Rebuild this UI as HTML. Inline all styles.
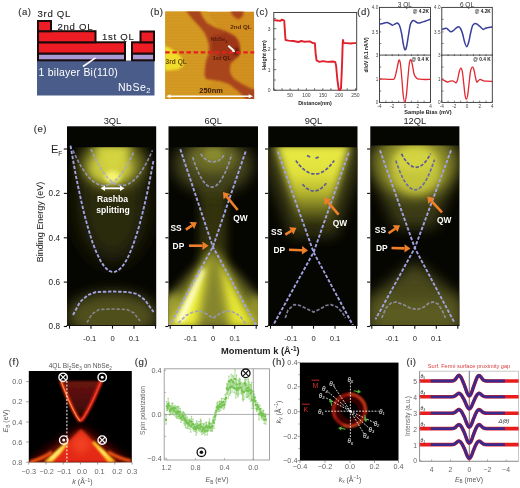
<!DOCTYPE html>
<html><head><meta charset="utf-8"><title>Figure</title>
<style>html,body{margin:0;padding:0;background:#fff;width:520px;height:488px;overflow:hidden}svg{display:block}</style>
</head><body>
<svg width="520" height="488" viewBox="0 0 520 488" font-family="'Liberation Sans', Arial, sans-serif"><defs><clipPath id="cb"><rect x="165.2" y="11.4" width="89" height="87.7"/></clipPath><filter id="bl1" x="-20%" y="-20%" width="140%" height="140%"><feGaussianBlur stdDeviation="0.8"/></filter><filter id="g4" x="-50%" y="-50%" width="200%" height="200%"><feGaussianBlur stdDeviation="4"/></filter><filter id="g7" x="-50%" y="-50%" width="200%" height="200%"><feGaussianBlur stdDeviation="7"/></filter><filter id="g10" x="-50%" y="-50%" width="200%" height="200%"><feGaussianBlur stdDeviation="10"/></filter><filter id="g2" x="-50%" y="-50%" width="200%" height="200%"><feGaussianBlur stdDeviation="2"/></filter><clipPath id="ce0"><rect x="67" y="126.3" width="89.2" height="199.2"/></clipPath><clipPath id="cu0"><rect x="67" y="147.3" width="89.2" height="178.2"/></clipPath><clipPath id="ce1"><rect x="168.5" y="126.3" width="89.5" height="199.2"/></clipPath><clipPath id="cu1"><rect x="168.5" y="147.3" width="89.5" height="178.2"/></clipPath><clipPath id="ce2"><rect x="268.2" y="126.3" width="89.3" height="199.2"/></clipPath><clipPath id="cu2"><rect x="268.2" y="147.3" width="89.3" height="178.2"/></clipPath><linearGradient id="lg2" x1="0" y1="148" x2="0" y2="238" gradientUnits="userSpaceOnUse"><stop offset="0" stop-color="#eaea44"/><stop offset="0.3" stop-color="#e0e03c"/><stop offset="0.5" stop-color="#b4b430"/><stop offset="0.68" stop-color="#6e6e1e"/><stop offset="0.85" stop-color="#2a2a0e"/><stop offset="1" stop-color="#0a0a02"/></linearGradient><clipPath id="ce3"><rect x="370.3" y="126.3" width="89.1" height="199.2"/></clipPath><clipPath id="cu3"><rect x="370.3" y="147.3" width="89.1" height="178.2"/></clipPath><clipPath id="cv3"><rect x="370.3" y="145.5" width="89.1" height="180.0"/></clipPath><clipPath id="cf"><rect x="28.8" y="371.0" width="103.0" height="91.3"/></clipPath><filter id="f1" x="-50%" y="-50%" width="200%" height="200%"><feGaussianBlur stdDeviation="1"/></filter><filter id="f3" x="-50%" y="-50%" width="200%" height="200%"><feGaussianBlur stdDeviation="3"/></filter><filter id="f5" x="-50%" y="-50%" width="200%" height="200%"><feGaussianBlur stdDeviation="5"/></filter><linearGradient id="vint" x1="0" y1="381" x2="0" y2="421" gradientUnits="userSpaceOnUse"><stop offset="0" stop-color="#6a1410"/><stop offset="0.6" stop-color="#4a0c08"/><stop offset="1" stop-color="#1a0202"/></linearGradient><clipPath id="chh"><rect x="299.9" y="362.6" width="98.6" height="98.0"/></clipPath><radialGradient id="ring" cx="0.5" cy="0.5" r="0.5"><stop offset="0.5" stop-color="#000" stop-opacity="0"/><stop offset="0.64" stop-color="#3a0804"/><stop offset="0.8" stop-color="#a82408"/><stop offset="0.88" stop-color="#f05a1c"/><stop offset="0.94" stop-color="#a02008"/><stop offset="1" stop-color="#300400" stop-opacity="0"/></radialGradient></defs><text x="18.3" y="15.3" font-size="9.6" fill="#333" text-anchor="start" font-weight="normal" letter-spacing="0.5" stroke="#333" stroke-width="0.15">(a)</text>
<rect x="37" y="60.5" width="117.5" height="35" fill="#4a5d8a"/>
<rect x="38" y="53.5" width="87" height="6.799999999999997" fill="#a89ad2" stroke="#1a0a0a" stroke-width="2"/>
<rect x="132" y="53.5" width="22" height="6.799999999999997" fill="#a89ad2" stroke="#1a0a0a" stroke-width="2"/>
<rect x="38" y="42.3" width="87" height="11.200000000000003" fill="#ee1c24" stroke="#1a0a0a" stroke-width="2"/>
<rect x="132" y="42.3" width="22" height="11.200000000000003" fill="#ee1c24" stroke="#1a0a0a" stroke-width="2"/>
<rect x="38" y="31.2" width="57.5" height="11.099999999999998" fill="#ee1c24" stroke="#1a0a0a" stroke-width="2"/>
<rect x="140.5" y="31.5" width="13.5" height="10.799999999999997" fill="#ee1c24" stroke="#1a0a0a" stroke-width="2"/>
<rect x="38" y="21" width="13" height="10.2" fill="#ee1c24" stroke="#1a0a0a" stroke-width="2"/>
<text x="37.5" y="16.8" font-size="9.6" fill="#222" text-anchor="start" font-weight="normal" letter-spacing="0.7" stroke="#222" stroke-width="0.12">3rd QL</text>
<text x="57.5" y="29.6" font-size="9.6" fill="#222" text-anchor="start" font-weight="normal" letter-spacing="0.7" stroke="#222" stroke-width="0.12">2nd QL</text>
<text x="102.0" y="39.5" font-size="9.6" fill="#222" text-anchor="start" font-weight="normal" letter-spacing="0.7" stroke="#222" stroke-width="0.12">1st QL</text>
<line x1="83" y1="66.5" x2="95.5" y2="57.8" stroke="#fff" stroke-width="1.6"/>
<text x="38.6" y="76.2" font-size="10.5" fill="#fff" text-anchor="start" font-weight="normal" letter-spacing="0.22">1 bilayer Bi(110)</text>
<text x="118" y="90.6" font-size="10.5" fill="#fff" letter-spacing="0.5">NbSe<tspan font-size="7.5" dy="2.5">2</tspan></text>
<text x="150.2" y="14.8" font-size="9.6" fill="#333" text-anchor="start" font-weight="normal" letter-spacing="0.5" stroke="#333" stroke-width="0.15">(b)</text>
<g clip-path="url(#cb)">
<rect x="165.2" y="11.4" width="89.0" height="87.69999999999999" fill="#d2901f"/>
<polygon points="163.0,9.0 205.4,9.0 215.7,24.1 223.3,37.2 236.4,59.8 225.1,71.1 210.1,84.3 193.1,99.4 163.0,99.4" fill="#d59a22" filter="url(#bl1)"/>
<line x1="165.2" y1="12.4" x2="254.2" y2="12.4" stroke="#c08020" stroke-opacity="0.18" stroke-width="1"/>
<line x1="165.2" y1="15.4" x2="254.2" y2="15.4" stroke="#c08020" stroke-opacity="0.18" stroke-width="1"/>
<line x1="165.2" y1="18.4" x2="254.2" y2="18.4" stroke="#c08020" stroke-opacity="0.18" stroke-width="1"/>
<line x1="165.2" y1="21.4" x2="254.2" y2="21.4" stroke="#c08020" stroke-opacity="0.18" stroke-width="1"/>
<line x1="165.2" y1="24.4" x2="254.2" y2="24.4" stroke="#c08020" stroke-opacity="0.18" stroke-width="1"/>
<line x1="165.2" y1="27.4" x2="254.2" y2="27.4" stroke="#c08020" stroke-opacity="0.18" stroke-width="1"/>
<line x1="165.2" y1="30.4" x2="254.2" y2="30.4" stroke="#c08020" stroke-opacity="0.18" stroke-width="1"/>
<line x1="165.2" y1="33.4" x2="254.2" y2="33.4" stroke="#c08020" stroke-opacity="0.18" stroke-width="1"/>
<line x1="165.2" y1="36.4" x2="254.2" y2="36.4" stroke="#c08020" stroke-opacity="0.18" stroke-width="1"/>
<line x1="165.2" y1="39.4" x2="254.2" y2="39.4" stroke="#c08020" stroke-opacity="0.18" stroke-width="1"/>
<line x1="165.2" y1="42.4" x2="254.2" y2="42.4" stroke="#c08020" stroke-opacity="0.18" stroke-width="1"/>
<line x1="165.2" y1="45.4" x2="254.2" y2="45.4" stroke="#c08020" stroke-opacity="0.18" stroke-width="1"/>
<line x1="165.2" y1="48.4" x2="254.2" y2="48.4" stroke="#c08020" stroke-opacity="0.18" stroke-width="1"/>
<line x1="165.2" y1="51.4" x2="254.2" y2="51.4" stroke="#c08020" stroke-opacity="0.18" stroke-width="1"/>
<line x1="165.2" y1="54.4" x2="254.2" y2="54.4" stroke="#c08020" stroke-opacity="0.18" stroke-width="1"/>
<line x1="165.2" y1="57.4" x2="254.2" y2="57.4" stroke="#c08020" stroke-opacity="0.18" stroke-width="1"/>
<line x1="165.2" y1="60.4" x2="254.2" y2="60.4" stroke="#c08020" stroke-opacity="0.18" stroke-width="1"/>
<line x1="165.2" y1="63.4" x2="254.2" y2="63.4" stroke="#c08020" stroke-opacity="0.18" stroke-width="1"/>
<line x1="165.2" y1="66.4" x2="254.2" y2="66.4" stroke="#c08020" stroke-opacity="0.18" stroke-width="1"/>
<line x1="165.2" y1="69.4" x2="254.2" y2="69.4" stroke="#c08020" stroke-opacity="0.18" stroke-width="1"/>
<line x1="165.2" y1="72.4" x2="254.2" y2="72.4" stroke="#c08020" stroke-opacity="0.18" stroke-width="1"/>
<line x1="165.2" y1="75.4" x2="254.2" y2="75.4" stroke="#c08020" stroke-opacity="0.18" stroke-width="1"/>
<line x1="165.2" y1="78.4" x2="254.2" y2="78.4" stroke="#c08020" stroke-opacity="0.18" stroke-width="1"/>
<line x1="165.2" y1="81.4" x2="254.2" y2="81.4" stroke="#c08020" stroke-opacity="0.18" stroke-width="1"/>
<line x1="165.2" y1="84.4" x2="254.2" y2="84.4" stroke="#c08020" stroke-opacity="0.18" stroke-width="1"/>
<line x1="165.2" y1="87.4" x2="254.2" y2="87.4" stroke="#c08020" stroke-opacity="0.18" stroke-width="1"/>
<line x1="165.2" y1="90.4" x2="254.2" y2="90.4" stroke="#c08020" stroke-opacity="0.18" stroke-width="1"/>
<line x1="165.2" y1="93.4" x2="254.2" y2="93.4" stroke="#c08020" stroke-opacity="0.18" stroke-width="1"/>
<line x1="165.2" y1="96.4" x2="254.2" y2="96.4" stroke="#c08020" stroke-opacity="0.18" stroke-width="1"/>
<line x1="165.2" y1="99.4" x2="254.2" y2="99.4" stroke="#c08020" stroke-opacity="0.18" stroke-width="1"/>
<polygon points="185.5,10.0 192.0,18.5 199.0,26.0 204.0,32.0 207.0,38.5 209.0,45.5 208.7,53.7 206.0,60.9 205.0,68.0 204.5,75.0 206.0,79.0 212.0,80.0 220.0,81.0 229.0,84.0 238.0,91.0 244.0,97.0 247.0,100.0 257.0,100.0 257.0,90.0 251.0,88.5 242.0,84.0 234.0,79.0 230.5,74.0 229.7,69.0 230.7,64.0 234.8,59.8 239.0,55.7 240.0,48.6 239.0,41.4 233.8,35.2 225.6,31.1 215.0,27.5 207.0,23.0 202.5,17.0 199.5,10.0" fill="#a9451c" filter="url(#bl1)"/>
<polygon points="230.0,10.0 243.6,10.0 243.0,16.0 238.5,19.5 233.0,16.0" fill="#a9451c" filter="url(#bl1)"/>
<polygon points="212.0,36.0 226.0,33.0 236.0,38.0 239.5,47.0 238.0,56.0 232.0,60.0 220.0,58.0 212.0,50.0" fill="#983218" opacity="0.75" filter="url(#bl1)"/>
<ellipse cx="236.5" cy="51.5" rx="3" ry="3.5" fill="#6a1a0a" filter="url(#bl1)"/>
<polygon points="164.0,45.5 170.0,48.0 176.0,52.0 181.0,57.0 184.0,62.0 183.0,66.5 178.0,69.5 170.0,70.5 164.0,70.5" fill="#f0dc2a" filter="url(#bl1)"/>
</g>
<line x1="165.2" y1="52.3" x2="254.2" y2="52.3" stroke="#e8201c" stroke-width="2.2" stroke-dasharray="4.5,2.6"/>
<line x1="228.3" y1="45.8" x2="233.3" y2="50.3" stroke="#fff" stroke-width="2"/>
<polygon points="235.2,52.2 231.6,51.4 234.1,49" fill="#fff"/>
<text x="230.3" y="28.6" font-size="6.2" fill="#5a2a0a" text-anchor="start" font-weight="bold" >2nd QL</text>
<text x="210.5" y="41" font-size="5.8" fill="#5a200a" font-weight="bold">NbSe<tspan font-size="4" dy="1.5">2</tspan></text>
<text x="212.5" y="60.0" font-size="6" fill="#4a180a" text-anchor="start" font-weight="bold" >1st QL</text>
<text x="165.6" y="64.2" font-size="6.6" fill="#6a4a0a" text-anchor="start" font-weight="bold" >3rd QL</text>
<text x="199.3" y="93.0" font-size="7.4" fill="#3a1a08" text-anchor="start" font-weight="bold" >250nm</text>
<line x1="168" y1="96.2" x2="250.5" y2="96.2" stroke="#fff" stroke-width="1.6"/>
<polygon points="166.2,96.2 170.5,94.2 170.5,98.2" fill="#fff"/>
<polygon points="253,96.2 248.7,94.2 248.7,98.2" fill="#fff"/>
<text x="255.8" y="14.5" font-size="9.6" fill="#333" text-anchor="start" font-weight="normal" letter-spacing="0.5" stroke="#333" stroke-width="0.15">(c)</text>
<rect x="273.8" y="12.5" width="82.89999999999998" height="77.7" fill="none" stroke="#333" stroke-width="0.9"/>
<line x1="273.8" y1="90.2" x2="276.3" y2="90.2" stroke="#333" stroke-width="0.7"/>
<line x1="273.8" y1="80.0" x2="275.8" y2="80.0" stroke="#333" stroke-width="0.7"/>
<line x1="273.8" y1="69.7" x2="276.3" y2="69.7" stroke="#333" stroke-width="0.7"/>
<line x1="273.8" y1="59.5" x2="275.8" y2="59.5" stroke="#333" stroke-width="0.7"/>
<line x1="273.8" y1="49.2" x2="276.3" y2="49.2" stroke="#333" stroke-width="0.7"/>
<line x1="273.8" y1="39.0" x2="275.8" y2="39.0" stroke="#333" stroke-width="0.7"/>
<line x1="273.8" y1="28.7" x2="276.3" y2="28.7" stroke="#333" stroke-width="0.7"/>
<line x1="273.8" y1="18.5" x2="275.8" y2="18.5" stroke="#333" stroke-width="0.7"/>
<text x="270.5" y="92.2" font-size="5" fill="#444" text-anchor="end" font-weight="normal" >0</text>
<text x="270.5" y="71.7" font-size="5" fill="#444" text-anchor="end" font-weight="normal" >1</text>
<text x="270.5" y="51.2" font-size="5" fill="#444" text-anchor="end" font-weight="normal" >2</text>
<text x="270.5" y="30.7" font-size="5" fill="#444" text-anchor="end" font-weight="normal" >3</text>
<line x1="273.8" y1="90.2" x2="273.8" y2="88.2" stroke="#333" stroke-width="0.7"/>
<line x1="282.0" y1="90.2" x2="282.0" y2="88.2" stroke="#333" stroke-width="0.7"/>
<line x1="290.1" y1="90.2" x2="290.1" y2="88.2" stroke="#333" stroke-width="0.7"/>
<line x1="298.3" y1="90.2" x2="298.3" y2="88.2" stroke="#333" stroke-width="0.7"/>
<line x1="306.4" y1="90.2" x2="306.4" y2="88.2" stroke="#333" stroke-width="0.7"/>
<line x1="314.6" y1="90.2" x2="314.6" y2="88.2" stroke="#333" stroke-width="0.7"/>
<line x1="322.8" y1="90.2" x2="322.8" y2="88.2" stroke="#333" stroke-width="0.7"/>
<line x1="330.9" y1="90.2" x2="330.9" y2="88.2" stroke="#333" stroke-width="0.7"/>
<line x1="339.1" y1="90.2" x2="339.1" y2="88.2" stroke="#333" stroke-width="0.7"/>
<line x1="347.2" y1="90.2" x2="347.2" y2="88.2" stroke="#333" stroke-width="0.7"/>
<line x1="355.4" y1="90.2" x2="355.4" y2="88.2" stroke="#333" stroke-width="0.7"/>
<text x="290.1" y="97.0" font-size="5" fill="#444" text-anchor="middle" font-weight="normal" >50</text>
<text x="306.4" y="97.0" font-size="5" fill="#444" text-anchor="middle" font-weight="normal" >100</text>
<text x="322.8" y="97.0" font-size="5" fill="#444" text-anchor="middle" font-weight="normal" >150</text>
<text x="339.1" y="97.0" font-size="5" fill="#444" text-anchor="middle" font-weight="normal" >200</text>
<text x="355.4" y="97.0" font-size="5" fill="#444" text-anchor="middle" font-weight="normal" >250</text>
<text x="315.0" y="104.5" font-size="5.3" fill="#222" text-anchor="middle" font-weight="bold" >Distance(nm)</text>
<text transform="translate(265.5,55) rotate(-90)" font-size="5.3" fill="#222" text-anchor="middle" font-weight="bold">Height (nm)</text>
<path d="M273.8,20.1 L277.1,20.5 L280.3,20.9 L282.0,19.5 L284.2,20.5 L284.9,30.8 L285.5,40.0 L288.5,40.6 L293.4,41.0 L298.3,42.0 L301.5,41.0 L304.8,41.8 L309.7,41.4 L313.0,43.1 L314.9,43.1 L315.6,53.3 L316.6,60.5 L319.5,61.9 L322.8,61.1 L327.7,61.9 L332.5,61.5 L335.2,61.9 L336.1,65.6 L337.4,80.0 L338.7,89.2 L340.1,90.2 L341.0,88.2 L342.0,65.6 L342.7,43.1 L343.0,40.0 L343.6,43.1 L347.2,43.1 L350.5,43.5 L353.8,43.1 L356.0,43.1" fill="none" stroke="#e0202c" stroke-width="1.9" stroke-linejoin="round"/>
<text x="357.3" y="15.3" font-size="9.6" fill="#333" text-anchor="start" font-weight="normal" letter-spacing="0.5" stroke="#333" stroke-width="0.15">(d)</text>
<rect x="379.5" y="7.4" width="51.0" height="95.0" fill="none" stroke="#333" stroke-width="0.9"/>
<line x1="379.5" y1="55.1" x2="430.5" y2="55.1" stroke="#333" stroke-width="0.9"/>
<line x1="379.5" y1="102.4" x2="379.5" y2="100.60000000000001" stroke="#333" stroke-width="0.6"/>
<line x1="379.5" y1="54.1" x2="379.5" y2="56.1" stroke="#333" stroke-width="0.6"/>
<line x1="385.9" y1="102.4" x2="385.9" y2="100.60000000000001" stroke="#333" stroke-width="0.6"/>
<line x1="385.9" y1="54.1" x2="385.9" y2="56.1" stroke="#333" stroke-width="0.6"/>
<line x1="392.2" y1="102.4" x2="392.2" y2="100.60000000000001" stroke="#333" stroke-width="0.6"/>
<line x1="392.2" y1="54.1" x2="392.2" y2="56.1" stroke="#333" stroke-width="0.6"/>
<line x1="398.6" y1="102.4" x2="398.6" y2="100.60000000000001" stroke="#333" stroke-width="0.6"/>
<line x1="398.6" y1="54.1" x2="398.6" y2="56.1" stroke="#333" stroke-width="0.6"/>
<line x1="405.0" y1="102.4" x2="405.0" y2="100.60000000000001" stroke="#333" stroke-width="0.6"/>
<line x1="405.0" y1="54.1" x2="405.0" y2="56.1" stroke="#333" stroke-width="0.6"/>
<line x1="411.4" y1="102.4" x2="411.4" y2="100.60000000000001" stroke="#333" stroke-width="0.6"/>
<line x1="411.4" y1="54.1" x2="411.4" y2="56.1" stroke="#333" stroke-width="0.6"/>
<line x1="417.8" y1="102.4" x2="417.8" y2="100.60000000000001" stroke="#333" stroke-width="0.6"/>
<line x1="417.8" y1="54.1" x2="417.8" y2="56.1" stroke="#333" stroke-width="0.6"/>
<line x1="424.1" y1="102.4" x2="424.1" y2="100.60000000000001" stroke="#333" stroke-width="0.6"/>
<line x1="424.1" y1="54.1" x2="424.1" y2="56.1" stroke="#333" stroke-width="0.6"/>
<line x1="430.5" y1="102.4" x2="430.5" y2="100.60000000000001" stroke="#333" stroke-width="0.6"/>
<line x1="430.5" y1="54.1" x2="430.5" y2="56.1" stroke="#333" stroke-width="0.6"/>
<text x="379.5" y="108.0" font-size="4.6" fill="#444" text-anchor="middle" font-weight="normal" >-4</text>
<text x="392.2" y="108.0" font-size="4.6" fill="#444" text-anchor="middle" font-weight="normal" >-2</text>
<text x="405.0" y="108.0" font-size="4.6" fill="#444" text-anchor="middle" font-weight="normal" >0</text>
<text x="417.8" y="108.0" font-size="4.6" fill="#444" text-anchor="middle" font-weight="normal" >2</text>
<text x="430.5" y="108.0" font-size="4.6" fill="#444" text-anchor="middle" font-weight="normal" >4</text>
<line x1="379.5" y1="19.3" x2="381.3" y2="19.3" stroke="#333" stroke-width="0.6"/>
<line x1="379.5" y1="31.9" x2="381.3" y2="31.9" stroke="#333" stroke-width="0.6"/>
<line x1="379.5" y1="43.5" x2="381.3" y2="43.5" stroke="#333" stroke-width="0.6"/>
<line x1="379.5" y1="67" x2="381.3" y2="67" stroke="#333" stroke-width="0.6"/>
<line x1="379.5" y1="79" x2="381.3" y2="79" stroke="#333" stroke-width="0.6"/>
<line x1="379.5" y1="91" x2="381.3" y2="91" stroke="#333" stroke-width="0.6"/>
<text x="378.2" y="9.3" font-size="4.6" fill="#444" text-anchor="end" font-weight="normal" >4.0</text>
<text x="378.2" y="33.6" font-size="4.6" fill="#444" text-anchor="end" font-weight="normal" >3.5</text>
<text x="378.2" y="56.8" font-size="4.6" fill="#444" text-anchor="end" font-weight="normal" >3</text>
<text x="378.2" y="80.7" font-size="4.6" fill="#444" text-anchor="end" font-weight="normal" >1</text>
<text x="378.2" y="104.2" font-size="4.6" fill="#444" text-anchor="end" font-weight="normal" >0</text>
<text x="429.0" y="13.2" font-size="4.8" fill="#222" text-anchor="end" font-weight="bold" >@ 4.2K</text>
<text x="429.0" y="60.8" font-size="4.8" fill="#222" text-anchor="end" font-weight="bold" >@ 0.4 K</text>
<text x="404.8" y="6.5" font-size="6.5" fill="#333" text-anchor="middle" font-weight="normal" >3 QL</text>
<path d="M379.50,24.00 C380.08,23.90 381.77,23.65 383.00,23.40 C384.23,23.15 385.73,22.43 386.90,22.50 C388.07,22.57 389.05,23.35 390.00,23.80 C390.95,24.25 391.77,25.17 392.60,25.20 C393.43,25.23 394.22,24.37 395.00,24.00 C395.78,23.63 396.55,22.75 397.30,23.00 C398.05,23.25 398.80,23.83 399.50,25.50 C400.20,27.17 400.87,29.92 401.50,33.00 C402.13,36.08 402.72,41.20 403.30,44.00 C403.88,46.80 404.43,49.47 405.00,49.80 C405.57,50.13 406.12,48.47 406.70,46.00 C407.28,43.53 407.92,38.50 408.50,35.00 C409.08,31.50 409.62,27.28 410.20,25.00 C410.78,22.72 411.43,22.03 412.00,21.30 C412.57,20.57 413.02,20.57 413.60,20.60 C414.18,20.63 414.77,21.10 415.50,21.50 C416.23,21.90 417.08,22.83 418.00,23.00 C418.92,23.17 419.83,22.80 421.00,22.50 C422.17,22.20 423.42,21.73 425.00,21.20 C426.58,20.67 429.58,19.62 430.50,19.30" fill="none" stroke="#3a3f9a" stroke-width="1.5"/>
<path d="M379.50,79.00 C380.58,79.03 383.92,79.13 386.00,79.20 C388.08,79.27 390.58,79.52 392.00,79.40 C393.42,79.28 393.75,79.90 394.50,78.50 C395.25,77.10 395.78,73.98 396.50,71.00 C397.22,68.02 398.17,61.93 398.80,60.60 C399.43,59.27 399.80,60.10 400.30,63.00 C400.80,65.90 401.32,72.67 401.80,78.00 C402.28,83.33 402.70,90.93 403.20,95.00 C403.70,99.07 404.27,102.40 404.80,102.40 C405.33,102.40 405.88,99.07 406.40,95.00 C406.92,90.93 407.40,83.33 407.90,78.00 C408.40,72.67 408.90,66.03 409.40,63.00 C409.90,59.97 410.40,59.47 410.90,59.80 C411.40,60.13 411.85,62.55 412.40,65.00 C412.95,67.45 413.43,72.23 414.20,74.50 C414.97,76.77 416.03,77.82 417.00,78.60 C417.97,79.38 418.67,79.05 420.00,79.20 C421.33,79.35 423.25,79.47 425.00,79.50 C426.75,79.53 429.58,79.42 430.50,79.40" fill="none" stroke="#e02830" stroke-width="1.3"/>
<rect x="441.8" y="7.4" width="50.5" height="95.0" fill="none" stroke="#333" stroke-width="0.9"/>
<line x1="441.8" y1="55.1" x2="492.3" y2="55.1" stroke="#333" stroke-width="0.9"/>
<line x1="441.8" y1="102.4" x2="441.8" y2="100.60000000000001" stroke="#333" stroke-width="0.6"/>
<line x1="441.8" y1="54.1" x2="441.8" y2="56.1" stroke="#333" stroke-width="0.6"/>
<line x1="448.1" y1="102.4" x2="448.1" y2="100.60000000000001" stroke="#333" stroke-width="0.6"/>
<line x1="448.1" y1="54.1" x2="448.1" y2="56.1" stroke="#333" stroke-width="0.6"/>
<line x1="454.4" y1="102.4" x2="454.4" y2="100.60000000000001" stroke="#333" stroke-width="0.6"/>
<line x1="454.4" y1="54.1" x2="454.4" y2="56.1" stroke="#333" stroke-width="0.6"/>
<line x1="460.7" y1="102.4" x2="460.7" y2="100.60000000000001" stroke="#333" stroke-width="0.6"/>
<line x1="460.7" y1="54.1" x2="460.7" y2="56.1" stroke="#333" stroke-width="0.6"/>
<line x1="467.1" y1="102.4" x2="467.1" y2="100.60000000000001" stroke="#333" stroke-width="0.6"/>
<line x1="467.1" y1="54.1" x2="467.1" y2="56.1" stroke="#333" stroke-width="0.6"/>
<line x1="473.4" y1="102.4" x2="473.4" y2="100.60000000000001" stroke="#333" stroke-width="0.6"/>
<line x1="473.4" y1="54.1" x2="473.4" y2="56.1" stroke="#333" stroke-width="0.6"/>
<line x1="479.7" y1="102.4" x2="479.7" y2="100.60000000000001" stroke="#333" stroke-width="0.6"/>
<line x1="479.7" y1="54.1" x2="479.7" y2="56.1" stroke="#333" stroke-width="0.6"/>
<line x1="486.0" y1="102.4" x2="486.0" y2="100.60000000000001" stroke="#333" stroke-width="0.6"/>
<line x1="486.0" y1="54.1" x2="486.0" y2="56.1" stroke="#333" stroke-width="0.6"/>
<line x1="492.3" y1="102.4" x2="492.3" y2="100.60000000000001" stroke="#333" stroke-width="0.6"/>
<line x1="492.3" y1="54.1" x2="492.3" y2="56.1" stroke="#333" stroke-width="0.6"/>
<text x="441.8" y="108.0" font-size="4.6" fill="#444" text-anchor="middle" font-weight="normal" >-4</text>
<text x="454.4" y="108.0" font-size="4.6" fill="#444" text-anchor="middle" font-weight="normal" >-2</text>
<text x="467.1" y="108.0" font-size="4.6" fill="#444" text-anchor="middle" font-weight="normal" >0</text>
<text x="479.7" y="108.0" font-size="4.6" fill="#444" text-anchor="middle" font-weight="normal" >2</text>
<text x="492.3" y="108.0" font-size="4.6" fill="#444" text-anchor="middle" font-weight="normal" >4</text>
<line x1="441.8" y1="19.3" x2="443.6" y2="19.3" stroke="#333" stroke-width="0.6"/>
<line x1="441.8" y1="31.9" x2="443.6" y2="31.9" stroke="#333" stroke-width="0.6"/>
<line x1="441.8" y1="43.5" x2="443.6" y2="43.5" stroke="#333" stroke-width="0.6"/>
<line x1="441.8" y1="67" x2="443.6" y2="67" stroke="#333" stroke-width="0.6"/>
<line x1="441.8" y1="79" x2="443.6" y2="79" stroke="#333" stroke-width="0.6"/>
<line x1="441.8" y1="91" x2="443.6" y2="91" stroke="#333" stroke-width="0.6"/>
<text x="440.5" y="9.3" font-size="4.6" fill="#444" text-anchor="end" font-weight="normal" >4.0</text>
<text x="440.5" y="33.6" font-size="4.6" fill="#444" text-anchor="end" font-weight="normal" >3.5</text>
<text x="440.5" y="56.8" font-size="4.6" fill="#444" text-anchor="end" font-weight="normal" >3</text>
<text x="440.5" y="80.7" font-size="4.6" fill="#444" text-anchor="end" font-weight="normal" >1</text>
<text x="440.5" y="104.2" font-size="4.6" fill="#444" text-anchor="end" font-weight="normal" >0</text>
<text x="490.8" y="13.2" font-size="4.8" fill="#222" text-anchor="end" font-weight="bold" >@ 4.2K</text>
<text x="490.8" y="60.8" font-size="4.8" fill="#222" text-anchor="end" font-weight="bold" >@ 0.4 K</text>
<text x="467.0" y="6.5" font-size="6.5" fill="#333" text-anchor="middle" font-weight="normal" >6 QL</text>
<path d="M441.80,29.40 C442.17,29.30 443.23,28.98 444.00,28.80 C444.77,28.62 445.63,28.10 446.40,28.30 C447.17,28.50 447.87,29.43 448.60,30.00 C449.33,30.57 449.98,31.62 450.80,31.70 C451.62,31.78 452.63,31.08 453.50,30.50 C454.37,29.92 455.17,28.82 456.00,28.20 C456.83,27.58 457.75,26.75 458.50,26.80 C459.25,26.85 459.83,27.38 460.50,28.50 C461.17,29.62 461.82,31.25 462.50,33.50 C463.18,35.75 463.90,39.80 464.60,42.00 C465.30,44.20 466.03,46.62 466.70,46.70 C467.37,46.78 467.95,44.78 468.60,42.50 C469.25,40.22 469.93,35.83 470.60,33.00 C471.27,30.17 471.82,27.10 472.60,25.50 C473.38,23.90 474.40,23.52 475.30,23.40 C476.20,23.28 477.13,24.20 478.00,24.80 C478.87,25.40 479.83,26.38 480.50,27.00 C481.17,27.62 481.48,28.10 482.00,28.50 C482.52,28.90 483.02,29.43 483.60,29.40 C484.18,29.37 484.92,28.58 485.50,28.30 C486.08,28.02 486.35,27.87 487.10,27.70 C487.85,27.53 489.13,27.45 490.00,27.30 C490.87,27.15 491.92,26.88 492.30,26.80" fill="none" stroke="#3a3f9a" stroke-width="1.5"/>
<path d="M441.80,79.40 C442.25,79.60 443.58,80.17 444.50,80.60 C445.42,81.03 446.38,81.90 447.30,82.00 C448.22,82.10 449.13,81.40 450.00,81.20 C450.87,81.00 451.75,80.70 452.50,80.80 C453.25,80.90 453.92,81.45 454.50,81.80 C455.08,82.15 455.50,83.20 456.00,82.90 C456.50,82.60 456.97,81.82 457.50,80.00 C458.03,78.18 458.65,73.97 459.20,72.00 C459.75,70.03 460.28,68.28 460.80,68.20 C461.32,68.12 461.80,68.87 462.30,71.50 C462.80,74.13 463.35,80.08 463.80,84.00 C464.25,87.92 464.58,92.45 465.00,95.00 C465.42,97.55 465.85,99.30 466.30,99.30 C466.75,99.30 467.25,97.55 467.70,95.00 C468.15,92.45 468.52,88.00 469.00,84.00 C469.48,80.00 470.03,73.83 470.60,71.00 C471.17,68.17 471.83,67.17 472.40,67.00 C472.97,66.83 473.50,68.33 474.00,70.00 C474.50,71.67 474.95,75.00 475.40,77.00 C475.85,79.00 476.18,81.42 476.70,82.00 C477.22,82.58 477.92,80.93 478.50,80.50 C479.08,80.07 479.62,79.45 480.20,79.40 C480.78,79.35 481.43,79.97 482.00,80.20 C482.57,80.43 482.77,80.63 483.60,80.80 C484.43,80.97 485.55,81.08 487.00,81.20 C488.45,81.32 491.42,81.45 492.30,81.50" fill="none" stroke="#e02830" stroke-width="1.3"/>
<text transform="translate(368.3,55) rotate(-90)" font-size="4.8" fill="#222" text-anchor="middle" font-weight="bold">dI/dV (0.1 nA/V)</text>
<text x="428.0" y="114.4" font-size="5.6" fill="#222" text-anchor="middle" font-weight="bold" >Sample Bias (mV)</text>
<rect x="67" y="126.3" width="89.2" height="199.2" fill="#050502"/>
<g clip-path="url(#ce0)">
<g clip-path="url(#cu0)">
<ellipse cx="112.5" cy="200" rx="36" ry="62" fill="#2a2a0c" filter="url(#g10)"/>
<ellipse cx="112.5" cy="164" rx="33" ry="24" fill="#7a7a26" filter="url(#g7)"/>
<ellipse cx="110.5" cy="168" rx="22" ry="16" fill="#c8c83e" filter="url(#g4)"/>
<polygon points="92.5,146.0 132.5,146.0 113.5,182.0" fill="#d4d440" filter="url(#g4)"/>
<ellipse cx="112.5" cy="177" rx="8" ry="6" fill="#f4f470" filter="url(#g2)"/>
</g>
<ellipse cx="112.5" cy="316" rx="46" ry="24" fill="#50501a" filter="url(#g7)"/>
<path d="M70.5,145.7 L73.3,161.5 L76.0,176.3 L78.8,190.0 L81.6,202.6 L84.3,214.2 L87.1,224.7 L89.9,234.1 L92.6,242.6 L95.4,249.9 L98.2,256.2 L100.9,261.5 L103.7,265.6 L106.5,268.8 L109.2,270.9 L112.0,271.9 L114.8,271.9 L117.5,270.8 L120.3,268.6 L123.1,265.4 L125.8,261.2 L128.6,255.9 L131.4,249.5 L134.1,242.1 L136.9,233.6 L139.7,224.1 L142.4,213.5 L145.2,201.9 L148.0,189.2 L150.7,175.4 L153.5,160.6" fill="none" stroke="#a2a2e2" stroke-width="1.9" stroke-dasharray="3.4,1.7" stroke-opacity="1.0"/>
<path d="M73.0,150.4 L75.0,154.9 L77.1,159.1 L79.1,162.9 L81.1,166.5 L83.2,169.8 L85.2,172.7 L87.2,175.4 L89.3,177.7 L91.3,179.8 L93.3,181.5 L95.4,182.9 L97.4,184.0 L99.4,184.8 L101.5,185.3 L103.5,185.5 L105.5,185.4 L107.6,184.9 L109.6,184.2 L111.6,183.2 L113.7,181.8 L115.7,180.1 L117.7,178.2 L119.8,175.9 L121.8,173.3 L123.8,170.4 L125.9,167.2 L127.9,163.7 L129.9,159.8 L132.0,155.7 L134.0,151.3" fill="none" stroke="#a2a2e2" stroke-width="1.7" stroke-dasharray="3.4,1.7" stroke-opacity="0.75"/>
<path d="M91.0,149.2 L93.0,153.8 L95.1,158.2 L97.2,162.2 L99.2,165.9 L101.2,169.2 L103.3,172.3 L105.3,175.0 L107.4,177.4 L109.5,179.5 L111.5,181.3 L113.5,182.8 L115.6,184.0 L117.7,184.8 L119.7,185.3 L121.8,185.5 L123.8,185.4 L125.8,184.9 L127.9,184.2 L129.9,183.1 L132.0,181.7 L134.1,180.0 L136.1,178.0 L138.2,175.6 L140.2,173.0 L142.2,170.0 L144.3,166.7 L146.3,163.1 L148.4,159.2 L150.4,154.9 L152.5,150.4" fill="none" stroke="#a2a2e2" stroke-width="1.7" stroke-dasharray="3.4,1.7" stroke-opacity="0.75"/>
<path d="M73.0,315.0 L80.0,302.0 L88.0,295.0 L96.0,292.0 L112.0,291.5 L128.0,292.0 L137.0,294.0 L145.0,300.0 L153.5,312.0" fill="none" stroke="#a2a2e2" stroke-width="1.9" stroke-dasharray="3.4,1.7" stroke-opacity="1.0"/>
<path d="M87.0,322.5 L92.0,314.0 L99.0,309.5 L113.0,309.0 L127.0,309.5 L134.0,313.0 L140.0,321.0" fill="none" stroke="#9a9ab8" stroke-width="1.6" stroke-dasharray="3.4,1.7" stroke-opacity="0.7"/>
</g>
<line x1="63.8" y1="149.0" x2="67" y2="149.0" stroke="#111" stroke-width="1.1"/>
<line x1="63.8" y1="193.4" x2="67" y2="193.4" stroke="#111" stroke-width="1.1"/>
<line x1="63.8" y1="237.8" x2="67" y2="237.8" stroke="#111" stroke-width="1.1"/>
<line x1="63.8" y1="282.1" x2="67" y2="282.1" stroke="#111" stroke-width="1.1"/>
<line x1="63.8" y1="326.5" x2="67" y2="326.5" stroke="#111" stroke-width="1.1"/>
<line x1="66.5" y1="325.5" x2="156.2" y2="325.5" stroke="#111" stroke-width="1.2"/>
<line x1="69.5" y1="325.5" x2="69.5" y2="328.7" stroke="#111" stroke-width="1.1"/>
<line x1="91.0" y1="325.5" x2="91.0" y2="328.7" stroke="#111" stroke-width="1.1"/>
<line x1="112.5" y1="325.5" x2="112.5" y2="328.7" stroke="#111" stroke-width="1.1"/>
<line x1="134.0" y1="325.5" x2="134.0" y2="328.7" stroke="#111" stroke-width="1.1"/>
<line x1="155.5" y1="325.5" x2="155.5" y2="328.7" stroke="#111" stroke-width="1.1"/>
<text x="89.8" y="341.3" font-size="7.6" fill="#222" text-anchor="middle" font-weight="normal" >-0.1</text>
<text x="112.5" y="341.3" font-size="7.6" fill="#222" text-anchor="middle" font-weight="normal" >0</text>
<text x="134.0" y="341.3" font-size="7.6" fill="#222" text-anchor="middle" font-weight="normal" >0.1</text>
<text x="112.5" y="123.8" font-size="9.3" fill="#222" text-anchor="middle" font-weight="normal" >3QL</text>
<rect x="168.5" y="126.3" width="89.5" height="199.2" fill="#050502"/>
<g clip-path="url(#ce1)">
<g clip-path="url(#cu1)">
<rect x="199.2" y="147" width="28" height="115" fill="#303010" filter="url(#g4)"/>
<ellipse cx="213.2" cy="165" rx="40" ry="28" fill="#44441a" filter="url(#g7)"/>
<ellipse cx="213.2" cy="158" rx="24" ry="15" fill="#6a6a26" filter="url(#g4)"/>
<ellipse cx="213.2" cy="155" rx="10" ry="7" fill="#88882e" filter="url(#g2)"/>
</g>
<polygon points="213.2,246.0 164.5,300.0 164.5,332.0 262.0,332.0 262.0,300.0" fill="#5a5a20" filter="url(#g4)"/>
<polygon points="213.2,250.0 191.2,325.0 235.2,325.0" fill="#86862e" filter="url(#g4)"/>
<polygon points="164.5,298.0 182.5,292.0 174.5,332.0 164.5,332.0" fill="#a0a030" filter="url(#g4)"/>
<polygon points="262.0,298.0 248.0,296.0 254.0,332.0 262.0,332.0" fill="#9a9a2e" filter="url(#g4)"/>
<polygon points="212.2,250.0 169.0,327.0 197.0,327.0 210.2,258.0" fill="#f0f03a" filter="url(#g4)"/>
<polygon points="214.2,250.0 257.0,327.0 230.0,327.0 217.2,258.0" fill="#e6e636" filter="url(#g4)"/>
<polygon points="202.0,268.0 175.0,322.0 184.0,322.0 205.0,271.0" fill="#ffffc8" filter="url(#g2)"/>
<path d="M180.3,149.3 L212.9,246.9 L255.9,325.0" fill="none" stroke="#a2a2e2" stroke-width="1.9" stroke-dasharray="3.4,1.7" stroke-opacity="1.0"/>
<path d="M245.6,151.5 L212.9,246.9 L169.8,325.0" fill="none" stroke="#a2a2e2" stroke-width="1.9" stroke-dasharray="3.4,1.7" stroke-opacity="1.0"/>
<path d="M192.7,157.2 L194.0,161.1 L195.3,164.8 L196.6,168.2 L197.9,171.3 L199.2,174.1 L200.5,176.6 L201.8,178.9 L203.1,180.9 L204.4,182.6 L205.7,184.1 L207.0,185.2 L208.3,186.1 L209.6,186.7 L210.9,187.0 L212.2,187.1 L213.5,186.9 L214.8,186.4 L216.1,185.6 L217.4,184.5 L218.7,183.2 L220.0,181.6 L221.3,179.7 L222.6,177.5 L223.9,175.1 L225.2,172.4 L226.5,169.4 L227.8,166.1 L229.1,162.6 L230.4,158.7 L231.7,154.6" fill="none" stroke="#9a9ac8" stroke-width="1.7" stroke-dasharray="3.4,1.7" stroke-opacity="0.85"/>
<path d="M200.6,153.8 L204.0,158.0 L208.0,161.0 L213.0,162.0 L218.0,161.0 L222.0,158.0 L225.0,153.5" fill="none" stroke="#9a9ac8" stroke-width="1.7" stroke-dasharray="3.4,1.7" stroke-opacity="0.85"/>
<path d="M178.4,323.0 L186.0,315.5 L193.0,312.0 L199.3,310.8 L206.0,313.5 L213.0,318.2 L220.0,313.5 L226.4,310.8 L233.0,312.0 L240.0,316.0 L246.0,324.3" fill="none" stroke="#9a9ac8" stroke-width="1.7" stroke-dasharray="3.4,1.7" stroke-opacity="0.85"/>
</g>
<line x1="165.3" y1="149.0" x2="168.5" y2="149.0" stroke="#111" stroke-width="1.1"/>
<line x1="165.3" y1="193.4" x2="168.5" y2="193.4" stroke="#111" stroke-width="1.1"/>
<line x1="165.3" y1="237.8" x2="168.5" y2="237.8" stroke="#111" stroke-width="1.1"/>
<line x1="165.3" y1="282.1" x2="168.5" y2="282.1" stroke="#111" stroke-width="1.1"/>
<line x1="165.3" y1="326.5" x2="168.5" y2="326.5" stroke="#111" stroke-width="1.1"/>
<line x1="168.0" y1="325.5" x2="258.0" y2="325.5" stroke="#111" stroke-width="1.2"/>
<line x1="170.2" y1="325.5" x2="170.2" y2="328.7" stroke="#111" stroke-width="1.1"/>
<line x1="191.7" y1="325.5" x2="191.7" y2="328.7" stroke="#111" stroke-width="1.1"/>
<line x1="213.2" y1="325.5" x2="213.2" y2="328.7" stroke="#111" stroke-width="1.1"/>
<line x1="234.7" y1="325.5" x2="234.7" y2="328.7" stroke="#111" stroke-width="1.1"/>
<line x1="256.2" y1="325.5" x2="256.2" y2="328.7" stroke="#111" stroke-width="1.1"/>
<text x="190.5" y="341.3" font-size="7.6" fill="#222" text-anchor="middle" font-weight="normal" >-0.1</text>
<text x="213.2" y="341.3" font-size="7.6" fill="#222" text-anchor="middle" font-weight="normal" >0</text>
<text x="234.7" y="341.3" font-size="7.6" fill="#222" text-anchor="middle" font-weight="normal" >0.1</text>
<text x="213.2" y="123.8" font-size="9.3" fill="#222" text-anchor="middle" font-weight="normal" >6QL</text>
<rect x="268.2" y="126.3" width="89.3" height="199.2" fill="#050502"/>
<g clip-path="url(#ce2)">
<g clip-path="url(#cu2)">
<polygon points="264.2,144.0 361.5,144.0 359.5,168.0 335.5,236.0 291.5,236.0 266.2,168.0" fill="#3a3a12" filter="url(#g7)"/>
<polygon points="275.2,144.0 350.5,144.0 345.5,160.0 324.5,232.0 302.5,232.0 280.2,160.0" fill="url(#lg2)" filter="url(#g4)"/>
</g>
<path d="M277.8,151.5 L313.6,252.3 L353.0,325.5" fill="none" stroke="#a2a2e2" stroke-width="1.9" stroke-dasharray="3.4,1.7" stroke-opacity="1.0"/>
<path d="M348.7,152.7 L313.6,252.3 L273.0,325.5" fill="none" stroke="#a2a2e2" stroke-width="1.9" stroke-dasharray="3.4,1.7" stroke-opacity="1.0"/>
<path d="M307.0,155.5 L311.0,157.5" fill="none" stroke="#5a5a98" stroke-width="1.7" stroke-dasharray="3.4,1.7" stroke-opacity="1.0"/>
<path d="M315.5,158.3 L319.0,157.0" fill="none" stroke="#5a5a98" stroke-width="1.7" stroke-dasharray="3.4,1.7" stroke-opacity="1.0"/>
<path d="M295.8,160.5 L297.1,162.2 L298.4,163.9 L299.6,165.4 L300.9,166.7 L302.2,168.0 L303.5,169.1 L304.8,170.2 L306.0,171.1 L307.3,171.8 L308.6,172.5 L309.9,173.0 L311.2,173.5 L312.4,173.8 L313.7,173.9 L315.0,174.0 L316.3,173.9 L317.6,173.8 L318.8,173.5 L320.1,173.0 L321.4,172.5 L322.7,171.8 L324.0,171.1 L325.2,170.2 L326.5,169.1 L327.8,168.0 L329.1,166.7 L330.4,165.4 L331.6,163.9 L332.9,162.2 L334.2,160.5" fill="none" stroke="#5a5a98" stroke-width="1.7" stroke-dasharray="3.4,1.7" stroke-opacity="1.0"/>
<path d="M302.5,184.2 L303.3,185.1 L304.2,186.0 L305.0,186.8 L305.8,187.5 L306.6,188.2 L307.5,188.8 L308.3,189.3 L309.1,189.8 L309.9,190.2 L310.8,190.5 L311.6,190.7 L312.4,190.9 L313.2,191.0 L314.1,191.0 L314.9,191.0 L315.7,190.8 L316.6,190.7 L317.4,190.4 L318.2,190.1 L319.0,189.7 L319.9,189.2 L320.7,188.7 L321.5,188.1 L322.3,187.4 L323.2,186.7 L324.0,185.9 L324.8,185.0 L325.6,184.0 L326.5,183.0 L327.3,181.9" fill="none" stroke="#5a5a98" stroke-width="1.7" stroke-dasharray="3.4,1.7" stroke-opacity="1.0"/>
<path d="M285.3,318.0 L288.0,310.0 L294.0,304.6 L300.0,305.5 L307.0,309.0 L313.6,312.0 L320.0,309.0 L326.0,305.5 L330.8,304.6 L337.0,307.0 L342.0,312.0 L345.5,318.0" fill="none" stroke="#9a9ab8" stroke-width="1.7" stroke-dasharray="3.4,1.7" stroke-opacity="0.8"/>
</g>
<line x1="265.0" y1="149.0" x2="268.2" y2="149.0" stroke="#111" stroke-width="1.1"/>
<line x1="265.0" y1="193.4" x2="268.2" y2="193.4" stroke="#111" stroke-width="1.1"/>
<line x1="265.0" y1="237.8" x2="268.2" y2="237.8" stroke="#111" stroke-width="1.1"/>
<line x1="265.0" y1="282.1" x2="268.2" y2="282.1" stroke="#111" stroke-width="1.1"/>
<line x1="265.0" y1="326.5" x2="268.2" y2="326.5" stroke="#111" stroke-width="1.1"/>
<line x1="267.7" y1="325.5" x2="357.5" y2="325.5" stroke="#111" stroke-width="1.2"/>
<line x1="270.5" y1="325.5" x2="270.5" y2="328.7" stroke="#111" stroke-width="1.1"/>
<line x1="292.0" y1="325.5" x2="292.0" y2="328.7" stroke="#111" stroke-width="1.1"/>
<line x1="313.5" y1="325.5" x2="313.5" y2="328.7" stroke="#111" stroke-width="1.1"/>
<line x1="335.0" y1="325.5" x2="335.0" y2="328.7" stroke="#111" stroke-width="1.1"/>
<line x1="356.5" y1="325.5" x2="356.5" y2="328.7" stroke="#111" stroke-width="1.1"/>
<text x="290.8" y="341.3" font-size="7.6" fill="#222" text-anchor="middle" font-weight="normal" >-0.1</text>
<text x="313.5" y="341.3" font-size="7.6" fill="#222" text-anchor="middle" font-weight="normal" >0</text>
<text x="335.0" y="341.3" font-size="7.6" fill="#222" text-anchor="middle" font-weight="normal" >0.1</text>
<text x="313.5" y="123.8" font-size="9.3" fill="#222" text-anchor="middle" font-weight="normal" >9QL</text>
<rect x="370.3" y="126.3" width="89.1" height="199.2" fill="#050502"/>
<g clip-path="url(#ce3)">
<g clip-path="url(#cv3)">
<polygon points="366.3,146.0 463.4,146.0 459.4,170.0 434.8,228.0 394.8,228.0 370.3,170.0" fill="#3a3a12" filter="url(#g7)"/>
<ellipse cx="414.8" cy="164" rx="40" ry="34" fill="#8a8a2a" filter="url(#g7)"/>
<ellipse cx="415.8" cy="170" rx="25" ry="24" fill="#c4c43a" filter="url(#g4)"/>
<ellipse cx="414.8" cy="160" rx="20" ry="12" fill="#d4d442" filter="url(#g4)"/>
</g>
<polygon points="414.8,262.0 366.3,300.0 366.3,332.0 463.4,332.0 463.4,300.0" fill="#4a4a1a" filter="url(#g7)"/>
<rect x="374.3" y="300" width="81.1" height="30" fill="#5c5c20" filter="url(#g7)"/>
<path d="M380.0,150.4 L414.8,248.0 L454.0,321.8" fill="none" stroke="#a2a2e2" stroke-width="1.9" stroke-dasharray="3.4,1.7" stroke-opacity="1.0"/>
<path d="M451.0,150.4 L414.8,248.0 L375.5,319.3" fill="none" stroke="#a2a2e2" stroke-width="1.9" stroke-dasharray="3.4,1.7" stroke-opacity="1.0"/>
<path d="M401.4,153.8 L402.4,155.5 L403.4,157.2 L404.3,158.7 L405.3,160.1 L406.3,161.3 L407.3,162.5 L408.2,163.5 L409.2,164.4 L410.2,165.2 L411.2,165.8 L412.1,166.4 L413.1,166.8 L414.1,167.1 L415.1,167.2 L416.0,167.3 L417.0,167.2 L418.0,167.0 L419.0,166.7 L420.0,166.3 L420.9,165.8 L421.9,165.1 L422.9,164.3 L423.9,163.4 L424.8,162.4 L425.8,161.2 L426.8,159.9 L427.8,158.5 L428.7,157.0 L429.7,155.4 L430.7,153.6" fill="none" stroke="#5a5a98" stroke-width="1.7" stroke-dasharray="3.4,1.7" stroke-opacity="1.0"/>
<path d="M395.8,160.5 L397.1,164.3 L398.4,167.8 L399.7,171.1 L401.0,174.1 L402.2,176.9 L403.5,179.4 L404.8,181.6 L406.1,183.5 L407.4,185.2 L408.7,186.6 L410.0,187.8 L411.3,188.7 L412.6,189.3 L413.9,189.7 L415.1,189.8 L416.4,189.6 L417.7,189.2 L419.0,188.5 L420.3,187.6 L421.6,186.3 L422.9,184.9 L424.2,183.1 L425.5,181.1 L426.8,178.8 L428.1,176.3 L429.3,173.5 L430.6,170.4 L431.9,167.0 L433.2,163.4 L434.5,159.6" fill="none" stroke="#6a6aa8" stroke-width="1.7" stroke-dasharray="3.4,1.7" stroke-opacity="1.0"/>
<path d="M381.7,318.0 L386.0,308.0 L391.0,303.0 L396.4,302.0 L403.0,304.5 L410.0,308.0 L417.3,309.5 L424.0,307.0 L429.0,303.0 L433.3,302.0 L438.0,304.0 L442.0,310.0 L445.5,318.0" fill="none" stroke="#9a9ab8" stroke-width="1.7" stroke-dasharray="3.4,1.7" stroke-opacity="0.8"/>
</g>
<line x1="367.1" y1="149.0" x2="370.3" y2="149.0" stroke="#111" stroke-width="1.1"/>
<line x1="367.1" y1="193.4" x2="370.3" y2="193.4" stroke="#111" stroke-width="1.1"/>
<line x1="367.1" y1="237.8" x2="370.3" y2="237.8" stroke="#111" stroke-width="1.1"/>
<line x1="367.1" y1="282.1" x2="370.3" y2="282.1" stroke="#111" stroke-width="1.1"/>
<line x1="367.1" y1="326.5" x2="370.3" y2="326.5" stroke="#111" stroke-width="1.1"/>
<line x1="369.8" y1="325.5" x2="459.4" y2="325.5" stroke="#111" stroke-width="1.2"/>
<line x1="371.8" y1="325.5" x2="371.8" y2="328.7" stroke="#111" stroke-width="1.1"/>
<line x1="393.3" y1="325.5" x2="393.3" y2="328.7" stroke="#111" stroke-width="1.1"/>
<line x1="414.8" y1="325.5" x2="414.8" y2="328.7" stroke="#111" stroke-width="1.1"/>
<line x1="436.3" y1="325.5" x2="436.3" y2="328.7" stroke="#111" stroke-width="1.1"/>
<line x1="457.8" y1="325.5" x2="457.8" y2="328.7" stroke="#111" stroke-width="1.1"/>
<text x="392.1" y="341.3" font-size="7.6" fill="#222" text-anchor="middle" font-weight="normal" >-0.1</text>
<text x="414.8" y="341.3" font-size="7.6" fill="#222" text-anchor="middle" font-weight="normal" >0</text>
<text x="436.3" y="341.3" font-size="7.6" fill="#222" text-anchor="middle" font-weight="normal" >0.1</text>
<text x="414.8" y="123.8" font-size="9.3" fill="#222" text-anchor="middle" font-weight="normal" >12QL</text>
<text x="33.8" y="132.2" font-size="9.6" fill="#333" text-anchor="start" font-weight="normal" letter-spacing="0.5" stroke="#333" stroke-width="0.15">(e)</text>
<text x="51" y="153" font-size="11" fill="#222">E<tspan font-size="6.5" dy="2.5">F</tspan></text>
<text x="60.0" y="196.3" font-size="8.2" fill="#222" text-anchor="end" font-weight="normal" >0.2</text>
<text x="60.0" y="240.7" font-size="8.2" fill="#222" text-anchor="end" font-weight="normal" >0.4</text>
<text x="60.0" y="285.0" font-size="8.2" fill="#222" text-anchor="end" font-weight="normal" >0.6</text>
<text x="60.0" y="329.4" font-size="8.2" fill="#222" text-anchor="end" font-weight="normal" >0.8</text>
<text transform="translate(42.5,222) rotate(-90)" font-size="9" fill="#222" text-anchor="middle">Binding Energy (eV)</text>
<line x1="103.5" y1="188.3" x2="121.5" y2="188.3" stroke="#fff" stroke-width="1.8"/>
<polygon points="100.5,188.3 105,185.5 105,191.1" fill="#fff"/><polygon points="124.5,188.3 120,185.5 120,191.1" fill="#fff"/>
<text x="112.5" y="202.0" font-size="8.6" fill="#fff" text-anchor="middle" font-weight="bold" >Rashba</text>
<text x="113.0" y="213.3" font-size="8.6" fill="#fff" text-anchor="middle" font-weight="bold" >splitting</text>
<line x1="237.7" y1="210.0" x2="226.8" y2="196.6" stroke="#f07f2a" stroke-width="2.6"/>
<polygon points="223.0,192.0 230.0,194.0 223.5,199.3" fill="#f07f2a"/>
<text x="240.5" y="220.5" font-size="8.4" fill="#fff" text-anchor="middle" font-weight="bold" >QW</text>
<line x1="185.8" y1="229.7" x2="191.9" y2="225.6" stroke="#f07f2a" stroke-width="2.6"/>
<polygon points="196.9,222.3 194.2,229.1 189.6,222.1" fill="#f07f2a"/>
<text x="176.0" y="231.0" font-size="8.4" fill="#fff" text-anchor="middle" font-weight="bold" >SS</text>
<line x1="189.0" y1="245.7" x2="202.5" y2="245.7" stroke="#f07f2a" stroke-width="2.6"/>
<polygon points="208.5,245.7 202.5,249.9 202.5,241.5" fill="#f07f2a"/>
<text x="178.4" y="248.9" font-size="8.4" fill="#fff" text-anchor="middle" font-weight="bold" >DP</text>
<line x1="338.6" y1="214.6" x2="327.9" y2="202.2" stroke="#f07f2a" stroke-width="2.6"/>
<polygon points="324.0,197.7 331.1,199.5 324.7,205.0" fill="#f07f2a"/>
<text x="340.0" y="225.5" font-size="8.4" fill="#fff" text-anchor="middle" font-weight="bold" >QW</text>
<line x1="285.3" y1="234.6" x2="291.3" y2="230.9" stroke="#f07f2a" stroke-width="2.6"/>
<polygon points="296.4,227.7 293.5,234.4 289.1,227.3" fill="#f07f2a"/>
<text x="276.7" y="235.3" font-size="8.4" fill="#fff" text-anchor="middle" font-weight="bold" >SS</text>
<line x1="289.0" y1="249.8" x2="302.0" y2="250.3" stroke="#f07f2a" stroke-width="2.6"/>
<polygon points="308.0,250.5 301.8,254.5 302.2,246.1" fill="#f07f2a"/>
<text x="279.2" y="253.0" font-size="8.4" fill="#fff" text-anchor="middle" font-weight="bold" >DP</text>
<line x1="442.0" y1="212.3" x2="431.4" y2="201.0" stroke="#f07f2a" stroke-width="2.6"/>
<polygon points="427.3,196.6 434.5,198.1 428.3,203.9" fill="#f07f2a"/>
<text x="444.2" y="223.3" font-size="8.4" fill="#fff" text-anchor="middle" font-weight="bold" >QW</text>
<line x1="388.5" y1="233.3" x2="395.1" y2="228.7" stroke="#f07f2a" stroke-width="2.6"/>
<polygon points="400.0,225.2 397.5,232.1 392.7,225.2" fill="#f07f2a"/>
<text x="380.4" y="233.3" font-size="8.4" fill="#fff" text-anchor="middle" font-weight="bold" >SS</text>
<line x1="391.5" y1="248.0" x2="404.5" y2="248.4" stroke="#f07f2a" stroke-width="2.6"/>
<polygon points="410.5,248.6 404.4,252.6 404.6,244.2" fill="#f07f2a"/>
<text x="381.7" y="251.2" font-size="8.4" fill="#fff" text-anchor="middle" font-weight="bold" >DP</text>
<text x="221" y="354.3" font-size="9.3" fill="#222" font-weight="bold">Momentum k (Å<tspan font-size="6.5" dy="-3.5">-1</tspan><tspan dy="3.5">)</tspan></text>
<text x="8.8" y="364.8" font-size="9.6" fill="#333" text-anchor="start" font-weight="normal" letter-spacing="0.5" stroke="#333" stroke-width="0.15">(f)</text>
<rect x="28.8" y="371.0" width="103.0" height="91.3" fill="#000"/>
<g clip-path="url(#cf)">
<polygon points="61.0,381.0 61.5,382.3 62.0,383.7 62.5,385.0 63.0,386.3 63.6,387.7 64.1,389.0 64.6,390.3 65.2,391.7 65.7,393.0 66.3,394.3 66.8,395.7 67.4,397.0 67.9,398.3 68.5,399.7 69.1,401.0 69.7,402.3 70.3,403.7 70.9,405.0 71.5,406.3 72.2,407.7 72.8,409.0 73.5,410.3 74.2,411.7 74.9,413.0 75.6,414.3 76.4,415.7 77.2,417.0 78.1,418.3 79.0,419.7 80.4,421.0 80.4,421.0 81.9,419.7 82.9,418.3 83.9,417.0 84.7,415.7 85.5,414.3 86.3,413.0 87.1,411.7 87.8,410.3 88.5,409.0 89.2,407.7 89.9,406.3 90.6,405.0 91.2,403.7 91.9,402.3 92.5,401.0 93.1,399.7 93.8,398.3 94.4,397.0 95.0,395.7 95.6,394.3 96.1,393.0 96.7,391.7 97.3,390.3 97.9,389.0 98.4,387.7 99.0,386.3 99.6,385.0 100.1,383.7 100.7,382.3 101.2,381.0" fill="url(#vint)" filter="url(#f1)"/>
<polygon points="20.0,470.0 81.0,427.0 140.0,470.0" fill="#7a1005" filter="url(#f5)"/>
<polygon points="48.0,462.0 81.0,429.0 114.0,462.0" fill="#e42a16" filter="url(#f1)"/>
<polygon points="70.0,445.0 81.0,432.0 92.0,445.0 81.0,455.0" fill="#f04020" filter="url(#f3)"/>
<polygon points="44.0,462.0 56.0,451.0 66.0,442.0 68.0,444.0 60.0,454.0 52.0,462.0" fill="#ffd030" filter="url(#f1)"/>
<polygon points="49.0,459.0 58.0,451.0 65.0,445.0 60.0,452.0 53.0,459.0" fill="#fff080" filter="url(#f1)"/>
<polygon points="92.0,443.0 94.0,441.0 104.0,450.0 116.0,462.0 108.0,462.0 100.0,452.0" fill="#ffc828" filter="url(#f1)"/>
<polygon points="96.0,446.0 104.0,452.0 110.0,459.0 103.0,454.0" fill="#fff080" filter="url(#f1)"/>
<path d="M30,462 Q44,458 52,452" stroke="#ff5a18" stroke-width="3" fill="none" filter="url(#f1)"/>
<path d="M108,452 Q118,458 131,461" stroke="#ff5a18" stroke-width="3" fill="none" filter="url(#f1)"/>
<path d="M80.4,421.0 L79.0,419.7 L78.1,418.3 L77.2,417.0 L76.4,415.7 L75.6,414.3 L74.9,413.0 L74.2,411.7 L73.5,410.3 L72.8,409.0 L72.2,407.7 L71.5,406.3 L70.9,405.0 L70.3,403.7 L69.7,402.3 L69.1,401.0 L68.5,399.7 L67.9,398.3 L67.4,397.0 L66.8,395.7 L66.3,394.3 L65.7,393.0 L65.2,391.7 L64.6,390.3 L64.1,389.0 L63.6,387.7 L63.0,386.3 L62.5,385.0 L62.0,383.7 L61.5,382.3 L61.0,381.0" stroke="#ff3a10" stroke-width="3.2" fill="none" filter="url(#f1)"/>
<path d="M80.4,421.0 L81.9,419.7 L82.9,418.3 L83.9,417.0 L84.7,415.7 L85.5,414.3 L86.3,413.0 L87.1,411.7 L87.8,410.3 L88.5,409.0 L89.2,407.7 L89.9,406.3 L90.6,405.0 L91.2,403.7 L91.9,402.3 L92.5,401.0 L93.1,399.7 L93.8,398.3 L94.4,397.0 L95.0,395.7 L95.6,394.3 L96.1,393.0 L96.7,391.7 L97.3,390.3 L97.9,389.0 L98.4,387.7 L99.0,386.3 L99.6,385.0 L100.1,383.7 L100.7,382.3 L101.2,381.0" stroke="#f02818" stroke-width="3.6" fill="none" filter="url(#f1)"/>
<path d="M80.4,421.0 L79.0,419.7 L78.1,418.3 L77.2,417.0 L76.4,415.7 L75.6,414.3 L74.9,413.0 L74.2,411.7 L73.5,410.3 L72.8,409.0 L72.2,407.7 L71.5,406.3 L70.9,405.0 L70.3,403.7 L69.7,402.3 L69.1,401.0 L68.5,399.7 L67.9,398.3 L67.4,397.0 L66.8,395.7 L66.3,394.3 L65.7,393.0 L65.2,391.7 L64.6,390.3 L64.1,389.0 L63.6,387.7 L63.0,386.3 L62.5,385.0 L62.0,383.7 L61.5,382.3 L61.0,381.0" stroke="#ff9050" stroke-width="1.1" fill="none"/>
<path d="M80.4,421.0 L81.9,419.7 L82.9,418.3 L83.9,417.0 L84.7,415.7 L85.5,414.3 L86.3,413.0 L87.1,411.7 L87.8,410.3 L88.5,409.0 L89.2,407.7 L89.9,406.3 L90.6,405.0 L91.2,403.7 L91.9,402.3 L92.5,401.0 L93.1,399.7 L93.8,398.3 L94.4,397.0 L95.0,395.7 L95.6,394.3 L96.1,393.0 L96.7,391.7 L97.3,390.3 L97.9,389.0 L98.4,387.7 L99.0,386.3 L99.6,385.0 L100.1,383.7 L100.7,382.3 L101.2,381.0" stroke="#ff5030" stroke-width="0.9" fill="none"/>
</g>
<line x1="66.9" y1="381" x2="66.9" y2="462" stroke="#fff" stroke-width="1" stroke-dasharray="2,1.6"/>
<circle cx="63.1" cy="377.3" r="4.2" fill="none" stroke="#fff" stroke-width="1.4"/>
<path d="M60.2,374.4 L66.0,380.2 M60.2,380.2 L66.0,374.4" stroke="#fff" stroke-width="1.2"/>
<circle cx="102.2" cy="377.3" r="4.2" fill="none" stroke="#fff" stroke-width="1.4"/>
<circle cx="102.2" cy="377.3" r="1.5" fill="#fff"/>
<circle cx="63.7" cy="440.1" r="4.2" fill="none" stroke="#fff" stroke-width="1.4"/>
<circle cx="63.7" cy="440.1" r="1.5" fill="#fff"/>
<circle cx="102.2" cy="440.1" r="4.2" fill="none" stroke="#fff" stroke-width="1.4"/>
<path d="M99.3,437.2 L105.1,443.0 M99.3,443.0 L105.1,437.2" stroke="#fff" stroke-width="1.2"/>
<text x="80.3" y="368.3" font-size="6.6" fill="#555" text-anchor="middle">4QL Bi<tspan font-size="4.6" dy="1.5">2</tspan><tspan dy="-1.5">Se</tspan><tspan font-size="4.6" dy="1.5">3</tspan><tspan dy="-1.5"> on NbSe</tspan><tspan font-size="4.6" dy="1.5">2</tspan></text>
<text x="22.3" y="384.1" font-size="7.3" fill="#666" text-anchor="end" font-weight="normal" >0.0</text>
<line x1="26.3" y1="381.6" x2="28.8" y2="381.6" stroke="#666" stroke-width="0.7"/>
<text x="22.3" y="404.3" font-size="7.3" fill="#666" text-anchor="end" font-weight="normal" >0.2</text>
<line x1="26.3" y1="401.8" x2="28.8" y2="401.8" stroke="#666" stroke-width="0.7"/>
<text x="22.3" y="424.5" font-size="7.3" fill="#666" text-anchor="end" font-weight="normal" >0.4</text>
<line x1="26.3" y1="422" x2="28.8" y2="422" stroke="#666" stroke-width="0.7"/>
<text x="22.3" y="444.5" font-size="7.3" fill="#666" text-anchor="end" font-weight="normal" >0.6</text>
<line x1="26.3" y1="442" x2="28.8" y2="442" stroke="#666" stroke-width="0.7"/>
<text x="22.3" y="464.7" font-size="7.3" fill="#666" text-anchor="end" font-weight="normal" >0.8</text>
<line x1="26.3" y1="462.2" x2="28.8" y2="462.2" stroke="#666" stroke-width="0.7"/>
<text x="28.8" y="474.0" font-size="7.3" fill="#666" text-anchor="middle" font-weight="normal" >−0.3</text>
<text x="46.6" y="474.0" font-size="7.3" fill="#666" text-anchor="middle" font-weight="normal" >−0.2</text>
<text x="64.2" y="474.0" font-size="7.3" fill="#666" text-anchor="middle" font-weight="normal" >−0.1</text>
<text x="82.0" y="474.0" font-size="7.3" fill="#666" text-anchor="middle" font-weight="normal" >0.0</text>
<text x="99.5" y="474.0" font-size="7.3" fill="#666" text-anchor="middle" font-weight="normal" >0.1</text>
<text x="117.3" y="474.0" font-size="7.3" fill="#666" text-anchor="middle" font-weight="normal" >0.2</text>
<text x="132.2" y="474.0" font-size="7.3" fill="#666" text-anchor="middle" font-weight="normal" >0.3</text>
<line x1="28.8" y1="462.3" x2="28.8" y2="464.5" stroke="#666" stroke-width="0.7"/>
<line x1="46" y1="462.3" x2="46" y2="464.5" stroke="#666" stroke-width="0.7"/>
<line x1="63.2" y1="462.3" x2="63.2" y2="464.5" stroke="#666" stroke-width="0.7"/>
<line x1="80.4" y1="462.3" x2="80.4" y2="464.5" stroke="#666" stroke-width="0.7"/>
<line x1="97.6" y1="462.3" x2="97.6" y2="464.5" stroke="#666" stroke-width="0.7"/>
<line x1="114.8" y1="462.3" x2="114.8" y2="464.5" stroke="#666" stroke-width="0.7"/>
<line x1="132" y1="462.3" x2="132" y2="464.5" stroke="#666" stroke-width="0.7"/>
<text x="82.5" y="484" font-size="7" fill="#555" text-anchor="middle"><tspan font-style="italic">k</tspan> (Å<tspan font-size="4.8" dy="-2.5">−1</tspan><tspan dy="2.5">)</tspan></text>
<text transform="translate(8.3,421) rotate(-90)" font-size="7" fill="#555" text-anchor="middle"><tspan font-style="italic">E</tspan><tspan font-size="4.8" dy="1.5">B</tspan><tspan dy="-1.5"> (eV)</tspan></text>
<text x="134.7" y="364.6" font-size="9.6" fill="#333" text-anchor="start" font-weight="normal" letter-spacing="0.5" stroke="#333" stroke-width="0.15">(g)</text>
<rect x="164.2" y="368.8" width="105.3" height="91.2" fill="#fff" stroke="#999" stroke-width="0.9"/>
<line x1="164.2" y1="414.4" x2="269.5" y2="414.4" stroke="#999" stroke-width="0.8"/>
<line x1="253.3" y1="368.8" x2="253.3" y2="460" stroke="#888" stroke-width="0.8"/>
<text x="161.7" y="372.9" font-size="7.3" fill="#666" text-anchor="end" font-weight="normal" >0.4</text>
<line x1="164.2" y1="370.4" x2="166.2" y2="370.4" stroke="#999" stroke-width="0.7"/>
<text x="161.7" y="416.9" font-size="7.3" fill="#666" text-anchor="end" font-weight="normal" >0.0</text>
<line x1="164.2" y1="414.4" x2="166.2" y2="414.4" stroke="#999" stroke-width="0.7"/>
<text x="161.7" y="460.7" font-size="7.3" fill="#666" text-anchor="end" font-weight="normal" >−0.4</text>
<line x1="164.2" y1="458.2" x2="166.2" y2="458.2" stroke="#999" stroke-width="0.7"/>
<line x1="164.2" y1="392.4" x2="166.2" y2="392.4" stroke="#999" stroke-width="0.7"/>
<line x1="164.2" y1="436.4" x2="166.2" y2="436.4" stroke="#999" stroke-width="0.7"/>
<text x="166.6" y="469.8" font-size="7.3" fill="#666" text-anchor="middle" font-weight="normal" >1.2</text>
<line x1="166.6" y1="460" x2="166.6" y2="458" stroke="#999" stroke-width="0.7"/>
<text x="195.6" y="469.8" font-size="7.3" fill="#666" text-anchor="middle" font-weight="normal" >0.8</text>
<line x1="195.6" y1="460" x2="195.6" y2="458" stroke="#999" stroke-width="0.7"/>
<text x="224.5" y="469.8" font-size="7.3" fill="#666" text-anchor="middle" font-weight="normal" >0.4</text>
<line x1="224.5" y1="460" x2="224.5" y2="458" stroke="#999" stroke-width="0.7"/>
<text x="253.3" y="469.8" font-size="7.3" fill="#666" text-anchor="middle" font-weight="normal" >0.0</text>
<line x1="253.3" y1="460" x2="253.3" y2="458" stroke="#999" stroke-width="0.7"/>
<text x="217" y="482" font-size="7" fill="#555" text-anchor="middle"><tspan font-style="italic">E</tspan><tspan font-size="4.8" dy="1.5">B</tspan><tspan dy="-1.5"> (eV)</tspan></text>
<text transform="translate(144.5,410.5) rotate(-90)" font-size="6.6" fill="#666" text-anchor="middle">Spin polarization</text>
<rect x="165.0" y="418.8" width="2" height="2" fill="#74c350"/>
<rect x="165.8" y="405.1" width="2" height="2" fill="#74c350"/>
<rect x="166.5" y="407.0" width="2" height="2" fill="#74c350"/>
<rect x="167.2" y="402.9" width="2" height="2" fill="#74c350"/>
<rect x="168.0" y="404.7" width="2" height="2" fill="#74c350"/>
<rect x="168.8" y="410.0" width="2" height="2" fill="#74c350"/>
<rect x="169.5" y="409.0" width="2" height="2" fill="#74c350"/>
<rect x="170.2" y="407.7" width="2" height="2" fill="#74c350"/>
<rect x="171.0" y="407.8" width="2" height="2" fill="#74c350"/>
<rect x="171.8" y="407.1" width="2" height="2" fill="#74c350"/>
<rect x="172.5" y="408.6" width="2" height="2" fill="#74c350"/>
<rect x="173.2" y="409.7" width="2" height="2" fill="#74c350"/>
<rect x="174.0" y="407.1" width="2" height="2" fill="#74c350"/>
<rect x="174.8" y="411.6" width="2" height="2" fill="#74c350"/>
<rect x="175.5" y="411.2" width="2" height="2" fill="#74c350"/>
<rect x="176.2" y="411.8" width="2" height="2" fill="#74c350"/>
<rect x="177.0" y="410.3" width="2" height="2" fill="#74c350"/>
<rect x="177.8" y="411.4" width="2" height="2" fill="#74c350"/>
<rect x="178.5" y="415.2" width="2" height="2" fill="#74c350"/>
<rect x="179.2" y="410.8" width="2" height="2" fill="#74c350"/>
<rect x="180.0" y="417.3" width="2" height="2" fill="#74c350"/>
<rect x="180.8" y="415.7" width="2" height="2" fill="#74c350"/>
<rect x="181.5" y="415.5" width="2" height="2" fill="#74c350"/>
<rect x="182.2" y="415.0" width="2" height="2" fill="#74c350"/>
<rect x="183.0" y="417.3" width="2" height="2" fill="#74c350"/>
<rect x="183.8" y="418.6" width="2" height="2" fill="#74c350"/>
<rect x="184.5" y="420.4" width="2" height="2" fill="#74c350"/>
<rect x="185.2" y="419.7" width="2" height="2" fill="#74c350"/>
<rect x="186.0" y="421.7" width="2" height="2" fill="#74c350"/>
<rect x="186.8" y="422.6" width="2" height="2" fill="#74c350"/>
<rect x="187.5" y="422.0" width="2" height="2" fill="#74c350"/>
<rect x="188.2" y="423.6" width="2" height="2" fill="#74c350"/>
<rect x="189.0" y="420.5" width="2" height="2" fill="#74c350"/>
<rect x="189.8" y="425.2" width="2" height="2" fill="#74c350"/>
<rect x="190.5" y="420.6" width="2" height="2" fill="#74c350"/>
<rect x="191.2" y="423.6" width="2" height="2" fill="#74c350"/>
<rect x="192.0" y="423.1" width="2" height="2" fill="#74c350"/>
<rect x="192.8" y="427.4" width="2" height="2" fill="#74c350"/>
<rect x="193.5" y="425.8" width="2" height="2" fill="#74c350"/>
<rect x="194.2" y="426.8" width="2" height="2" fill="#74c350"/>
<rect x="195.0" y="428.2" width="2" height="2" fill="#74c350"/>
<rect x="195.8" y="425.8" width="2" height="2" fill="#74c350"/>
<rect x="196.5" y="424.7" width="2" height="2" fill="#74c350"/>
<rect x="197.2" y="427.0" width="2" height="2" fill="#74c350"/>
<rect x="198.0" y="424.4" width="2" height="2" fill="#74c350"/>
<rect x="198.8" y="427.4" width="2" height="2" fill="#74c350"/>
<rect x="199.5" y="423.5" width="2" height="2" fill="#74c350"/>
<rect x="200.2" y="425.5" width="2" height="2" fill="#74c350"/>
<rect x="201.0" y="429.7" width="2" height="2" fill="#74c350"/>
<rect x="201.8" y="426.7" width="2" height="2" fill="#74c350"/>
<rect x="202.5" y="427.9" width="2" height="2" fill="#74c350"/>
<rect x="203.2" y="427.3" width="2" height="2" fill="#74c350"/>
<rect x="204.0" y="429.8" width="2" height="2" fill="#74c350"/>
<rect x="204.8" y="426.2" width="2" height="2" fill="#74c350"/>
<rect x="205.5" y="424.7" width="2" height="2" fill="#74c350"/>
<rect x="206.2" y="429.8" width="2" height="2" fill="#74c350"/>
<rect x="207.0" y="426.6" width="2" height="2" fill="#74c350"/>
<rect x="207.8" y="425.5" width="2" height="2" fill="#74c350"/>
<rect x="208.5" y="422.5" width="2" height="2" fill="#74c350"/>
<rect x="209.2" y="426.6" width="2" height="2" fill="#74c350"/>
<rect x="210.0" y="426.4" width="2" height="2" fill="#74c350"/>
<rect x="210.8" y="425.9" width="2" height="2" fill="#74c350"/>
<rect x="211.5" y="425.1" width="2" height="2" fill="#74c350"/>
<rect x="212.2" y="419.5" width="2" height="2" fill="#74c350"/>
<rect x="213.0" y="421.6" width="2" height="2" fill="#74c350"/>
<rect x="213.8" y="415.4" width="2" height="2" fill="#74c350"/>
<rect x="214.5" y="414.6" width="2" height="2" fill="#74c350"/>
<rect x="215.2" y="409.7" width="2" height="2" fill="#74c350"/>
<rect x="216.0" y="406.5" width="2" height="2" fill="#74c350"/>
<rect x="216.8" y="404.7" width="2" height="2" fill="#74c350"/>
<rect x="217.5" y="407.5" width="2" height="2" fill="#74c350"/>
<rect x="218.2" y="405.6" width="2" height="2" fill="#74c350"/>
<rect x="219.0" y="403.2" width="2" height="2" fill="#74c350"/>
<rect x="219.8" y="406.1" width="2" height="2" fill="#74c350"/>
<rect x="220.5" y="401.3" width="2" height="2" fill="#74c350"/>
<rect x="221.2" y="404.4" width="2" height="2" fill="#74c350"/>
<rect x="222.0" y="401.2" width="2" height="2" fill="#74c350"/>
<rect x="222.8" y="404.2" width="2" height="2" fill="#74c350"/>
<rect x="223.5" y="403.8" width="2" height="2" fill="#74c350"/>
<rect x="224.2" y="398.2" width="2" height="2" fill="#74c350"/>
<rect x="225.0" y="397.0" width="2" height="2" fill="#74c350"/>
<rect x="225.8" y="387.3" width="2" height="2" fill="#74c350"/>
<rect x="226.5" y="388.1" width="2" height="2" fill="#74c350"/>
<rect x="227.2" y="388.7" width="2" height="2" fill="#74c350"/>
<rect x="228.0" y="380.5" width="2" height="2" fill="#74c350"/>
<rect x="228.8" y="386.7" width="2" height="2" fill="#74c350"/>
<rect x="229.5" y="386.4" width="2" height="2" fill="#74c350"/>
<rect x="230.2" y="378.9" width="2" height="2" fill="#74c350"/>
<rect x="231.0" y="385.6" width="2" height="2" fill="#74c350"/>
<rect x="231.8" y="380.5" width="2" height="2" fill="#74c350"/>
<rect x="232.5" y="381.4" width="2" height="2" fill="#74c350"/>
<rect x="233.2" y="387.1" width="2" height="2" fill="#74c350"/>
<rect x="234.0" y="378.0" width="2" height="2" fill="#74c350"/>
<rect x="234.8" y="387.6" width="2" height="2" fill="#74c350"/>
<rect x="235.5" y="383.3" width="2" height="2" fill="#74c350"/>
<rect x="236.2" y="389.0" width="2" height="2" fill="#74c350"/>
<rect x="237.0" y="387.3" width="2" height="2" fill="#74c350"/>
<rect x="237.8" y="386.7" width="2" height="2" fill="#74c350"/>
<rect x="238.5" y="383.1" width="2" height="2" fill="#74c350"/>
<rect x="239.2" y="382.7" width="2" height="2" fill="#74c350"/>
<rect x="240.0" y="386.7" width="2" height="2" fill="#74c350"/>
<rect x="240.8" y="389.3" width="2" height="2" fill="#74c350"/>
<rect x="241.5" y="390.6" width="2" height="2" fill="#74c350"/>
<rect x="242.2" y="391.0" width="2" height="2" fill="#74c350"/>
<rect x="243.0" y="391.0" width="2" height="2" fill="#74c350"/>
<rect x="243.8" y="382.0" width="2" height="2" fill="#74c350"/>
<rect x="244.5" y="383.9" width="2" height="2" fill="#74c350"/>
<rect x="245.2" y="389.5" width="2" height="2" fill="#74c350"/>
<rect x="246.0" y="387.4" width="2" height="2" fill="#74c350"/>
<rect x="246.8" y="390.0" width="2" height="2" fill="#74c350"/>
<rect x="247.5" y="386.7" width="2" height="2" fill="#74c350"/>
<rect x="248.2" y="389.6" width="2" height="2" fill="#74c350"/>
<rect x="249.0" y="388.8" width="2" height="2" fill="#74c350"/>
<rect x="249.8" y="392.0" width="2" height="2" fill="#74c350"/>
<rect x="250.5" y="389.6" width="2" height="2" fill="#74c350"/>
<rect x="251.2" y="399.0" width="2" height="2" fill="#74c350"/>
<rect x="252.0" y="399.5" width="2" height="2" fill="#74c350"/>
<rect x="252.8" y="399.0" width="2" height="2" fill="#74c350"/>
<rect x="253.5" y="396.6" width="2" height="2" fill="#74c350"/>
<rect x="254.2" y="400.4" width="2" height="2" fill="#74c350"/>
<rect x="255.0" y="403.7" width="2" height="2" fill="#74c350"/>
<rect x="255.8" y="408.3" width="2" height="2" fill="#74c350"/>
<rect x="256.5" y="404.5" width="2" height="2" fill="#74c350"/>
<rect x="257.2" y="406.1" width="2" height="2" fill="#74c350"/>
<rect x="258.0" y="413.3" width="2" height="2" fill="#74c350"/>
<rect x="258.8" y="408.2" width="2" height="2" fill="#74c350"/>
<rect x="259.5" y="411.0" width="2" height="2" fill="#74c350"/>
<rect x="260.2" y="412.2" width="2" height="2" fill="#74c350"/>
<rect x="261.0" y="414.9" width="2" height="2" fill="#74c350"/>
<rect x="261.8" y="413.1" width="2" height="2" fill="#74c350"/>
<rect x="262.5" y="413.7" width="2" height="2" fill="#74c350"/>
<rect x="263.2" y="418.8" width="2" height="2" fill="#74c350"/>
<rect x="264.0" y="415.4" width="2" height="2" fill="#74c350"/>
<rect x="264.8" y="418.6" width="2" height="2" fill="#74c350"/>
<path d="M166.0,415.4V424.2M165.2,415.4h1.6M165.2,424.2h1.6M166.8,401.5V410.7M165.9,401.5h1.6M165.9,410.7h1.6M167.5,405.3V410.8M166.7,405.3h1.6M166.7,410.8h1.6M168.2,398.4V409.3M167.4,398.4h1.6M167.4,409.3h1.6M169.0,402.4V409.0M168.2,402.4h1.6M168.2,409.0h1.6M169.8,406.8V415.1M168.9,406.8h1.6M168.9,415.1h1.6M170.5,405.8V414.1M169.7,405.8h1.6M169.7,414.1h1.6M171.2,405.7V411.7M170.4,405.7h1.6M170.4,411.7h1.6M172.0,403.3V414.3M171.2,403.3h1.6M171.2,414.3h1.6M172.8,403.0V413.2M171.9,403.0h1.6M171.9,413.2h1.6M173.5,406.9V412.3M172.7,406.9h1.6M172.7,412.3h1.6M174.2,406.2V415.3M173.4,406.2h1.6M173.4,415.3h1.6M175.0,405.5V410.7M174.2,405.5h1.6M174.2,410.7h1.6M175.8,408.5V416.8M174.9,408.5h1.6M174.9,416.8h1.6M176.5,406.6V417.7M175.7,406.6h1.6M175.7,417.7h1.6M177.2,407.0V418.5M176.4,407.0h1.6M176.4,418.5h1.6M178.0,406.0V416.6M177.2,406.0h1.6M177.2,416.6h1.6M178.8,406.6V418.2M177.9,406.6h1.6M177.9,418.2h1.6M179.5,413.4V419.0M178.7,413.4h1.6M178.7,419.0h1.6M180.2,408.5V415.0M179.4,408.5h1.6M179.4,415.0h1.6M181.0,414.3V422.4M180.2,414.3h1.6M180.2,422.4h1.6M181.8,413.1V420.2M180.9,413.1h1.6M180.9,420.2h1.6M182.5,412.6V420.3M181.7,412.6h1.6M181.7,420.3h1.6M183.2,411.5V420.6M182.4,411.5h1.6M182.4,420.6h1.6M184.0,412.6V423.9M183.2,412.6h1.6M183.2,423.9h1.6M184.8,413.8V425.3M183.9,413.8h1.6M183.9,425.3h1.6M185.5,415.4V427.4M184.7,415.4h1.6M184.7,427.4h1.6M186.2,417.7V423.8M185.4,417.7h1.6M185.4,423.8h1.6M187.0,416.8V428.6M186.2,416.8h1.6M186.2,428.6h1.6M187.8,419.1V428.1M186.9,419.1h1.6M186.9,428.1h1.6M188.5,419.8V426.2M187.7,419.8h1.6M187.7,426.2h1.6M189.2,420.1V429.1M188.4,420.1h1.6M188.4,429.1h1.6M190.0,418.8V424.2M189.2,418.8h1.6M189.2,424.2h1.6M190.8,420.3V432.2M189.9,420.3h1.6M189.9,432.2h1.6M191.5,416.3V426.9M190.7,416.3h1.6M190.7,426.9h1.6M192.2,421.6V427.7M191.4,421.6h1.6M191.4,427.7h1.6M193.0,418.9V429.3M192.2,418.9h1.6M192.2,429.3h1.6M193.8,425.7V431.1M192.9,425.7h1.6M192.9,431.1h1.6M194.5,424.2V429.5M193.7,424.2h1.6M193.7,429.5h1.6M195.2,424.2V431.5M194.4,424.2h1.6M194.4,431.5h1.6M196.0,423.3V435.2M195.2,423.3h1.6M195.2,435.2h1.6M196.8,420.8V432.8M195.9,420.8h1.6M195.9,432.8h1.6M197.5,423.0V428.5M196.7,423.0h1.6M196.7,428.5h1.6M198.2,425.4V430.6M197.4,425.4h1.6M197.4,430.6h1.6M199.0,421.5V429.3M198.2,421.5h1.6M198.2,429.3h1.6M199.8,425.3V431.4M198.9,425.3h1.6M198.9,431.4h1.6M200.5,419.0V430.0M199.7,419.0h1.6M199.7,430.0h1.6M201.2,420.6V432.3M200.4,420.6h1.6M200.4,432.3h1.6M202.0,426.8V434.5M201.2,426.8h1.6M201.2,434.5h1.6M202.8,423.4V432.0M201.9,423.4h1.6M201.9,432.0h1.6M203.5,424.4V433.5M202.7,424.4h1.6M202.7,433.5h1.6M204.2,423.6V432.9M203.4,423.6h1.6M203.4,432.9h1.6M205.0,426.6V435.1M204.2,426.6h1.6M204.2,435.1h1.6M205.8,422.2V432.2M204.9,422.2h1.6M204.9,432.2h1.6M206.5,422.2V429.3M205.7,422.2h1.6M205.7,429.3h1.6M207.2,426.5V435.1M206.4,426.5h1.6M206.4,435.1h1.6M208.0,425.0V430.1M207.2,425.0h1.6M207.2,430.1h1.6M208.8,421.9V431.0M207.9,421.9h1.6M207.9,431.0h1.6M209.5,418.9V428.2M208.7,418.9h1.6M208.7,428.2h1.6M210.2,424.9V430.3M209.4,424.9h1.6M209.4,430.3h1.6M211.0,423.3V431.5M210.2,423.3h1.6M210.2,431.5h1.6M211.8,423.1V430.6M210.9,423.1h1.6M210.9,430.6h1.6M212.5,421.1V431.2M211.7,421.1h1.6M211.7,431.2h1.6M213.2,417.7V423.2M212.4,417.7h1.6M212.4,423.2h1.6M214.0,416.7V428.5M213.2,416.7h1.6M213.2,428.5h1.6M214.8,412.3V420.5M213.9,412.3h1.6M213.9,420.5h1.6M215.5,412.0V419.3M214.7,412.0h1.6M214.7,419.3h1.6M216.2,407.1V414.3M215.4,407.1h1.6M215.4,414.3h1.6M217.0,402.9V412.1M216.2,402.9h1.6M216.2,412.1h1.6M217.8,401.9V409.5M216.9,401.9h1.6M216.9,409.5h1.6M218.5,405.9V411.1M217.7,405.9h1.6M217.7,411.1h1.6M219.2,401.5V411.6M218.4,401.5h1.6M218.4,411.6h1.6M220.0,400.9V407.5M219.2,400.9h1.6M219.2,407.5h1.6M220.8,403.8V410.5M219.9,403.8h1.6M219.9,410.5h1.6M221.5,398.3V406.3M220.7,398.3h1.6M220.7,406.3h1.6M222.2,402.5V408.2M221.4,402.5h1.6M221.4,408.2h1.6M223.0,398.5V405.9M222.2,398.5h1.6M222.2,405.9h1.6M223.8,401.2V409.3M222.9,401.2h1.6M222.9,409.3h1.6M224.5,401.8V407.9M223.7,401.8h1.6M223.7,407.9h1.6M225.2,394.4V404.0M224.4,394.4h1.6M224.4,404.0h1.6M226.0,393.9V402.1M225.2,393.9h1.6M225.2,402.1h1.6M226.8,383.6V393.0M225.9,383.6h1.6M225.9,393.0h1.6M227.5,384.1V394.2M226.7,384.1h1.6M226.7,394.2h1.6M228.2,381.0V398.3M227.4,381.0h1.6M227.4,398.3h1.6M229.0,376.0V387.1M228.2,376.0h1.6M228.2,387.1h1.6M229.8,380.1V395.3M228.9,380.1h1.6M228.9,395.3h1.6M230.5,381.4V393.3M229.7,381.4h1.6M229.7,393.3h1.6M231.2,374.3V385.6M230.4,374.3h1.6M230.4,385.6h1.6M232.0,381.0V392.1M231.2,381.0h1.6M231.2,392.1h1.6M232.8,375.2V387.8M231.9,375.2h1.6M231.9,387.8h1.6M233.5,376.2V388.7M232.7,376.2h1.6M232.7,388.7h1.6M234.2,383.3V393.0M233.4,383.3h1.6M233.4,393.0h1.6M235.0,369.7V388.2M234.2,369.7h1.6M234.2,388.2h1.6M235.8,379.1V398.1M234.9,379.1h1.6M234.9,398.1h1.6M236.5,375.0V393.7M235.7,375.0h1.6M235.7,393.7h1.6M237.2,384.7V395.2M236.4,384.7h1.6M236.4,395.2h1.6M238.0,379.6V397.0M237.2,379.6h1.6M237.2,397.0h1.6M238.8,380.8V394.6M237.9,380.8h1.6M237.9,394.6h1.6M239.5,378.1V390.0M238.7,378.1h1.6M238.7,390.0h1.6M240.2,379.3V388.0M239.4,379.3h1.6M239.4,388.0h1.6M241.0,382.1V393.3M240.2,382.1h1.6M240.2,393.3h1.6M241.8,386.1V394.6M240.9,386.1h1.6M240.9,394.6h1.6M242.5,383.7V399.4M241.7,383.7h1.6M241.7,399.4h1.6M243.2,383.0V401.0M242.4,383.0h1.6M242.4,401.0h1.6M244.0,384.8V399.3M243.2,384.8h1.6M243.2,399.3h1.6M244.8,374.8V391.2M243.9,374.8h1.6M243.9,391.2h1.6M245.5,379.2V390.6M244.7,379.2h1.6M244.7,390.6h1.6M246.2,383.5V397.4M245.4,383.5h1.6M245.4,397.4h1.6M247.0,379.1V397.6M246.2,379.1h1.6M246.2,397.6h1.6M247.8,385.1V396.9M246.9,385.1h1.6M246.9,396.9h1.6M248.5,378.9V396.5M247.7,378.9h1.6M247.7,396.5h1.6M249.2,382.2V399.0M248.4,382.2h1.6M248.4,399.0h1.6M250.0,384.7V394.9M249.2,384.7h1.6M249.2,394.9h1.6M250.8,384.4V401.5M249.9,384.4h1.6M249.9,401.5h1.6M251.5,382.2V399.1M250.7,382.2h1.6M250.7,399.1h1.6M252.2,391.5V408.5M251.4,391.5h1.6M251.4,408.5h1.6M253.0,396.5V404.5M252.2,396.5h1.6M252.2,404.5h1.6M253.8,391.1V408.8M252.9,391.1h1.6M252.9,408.8h1.6M254.5,394.2V401.1M253.7,394.2h1.6M253.7,401.1h1.6M255.2,397.0V405.7M254.4,397.0h1.6M254.4,405.7h1.6M256.0,400.5V408.8M255.2,400.5h1.6M255.2,408.8h1.6M256.8,406.8V411.8M255.9,406.8h1.6M255.9,411.8h1.6M257.5,402.5V408.4M256.7,402.5h1.6M256.7,408.4h1.6M258.2,404.4V409.9M257.4,404.4h1.6M257.4,409.9h1.6M259.0,408.8V419.8M258.2,408.8h1.6M258.2,419.8h1.6M259.8,405.0V413.5M258.9,405.0h1.6M258.9,413.5h1.6M260.5,408.4V415.6M259.7,408.4h1.6M259.7,415.6h1.6M261.2,408.5V418.0M260.4,408.5h1.6M260.4,418.0h1.6M262.0,412.1V419.7M261.2,412.1h1.6M261.2,419.7h1.6M262.8,410.5V417.8M261.9,410.5h1.6M261.9,417.8h1.6M263.5,410.2V419.1M262.7,410.2h1.6M262.7,419.1h1.6M264.2,416.0V423.7M263.4,416.0h1.6M263.4,423.7h1.6M265.0,413.3V419.6M264.2,413.3h1.6M264.2,419.6h1.6M265.8,415.0V424.2M264.9,415.0h1.6M264.9,424.2h1.6" stroke="#74c350" stroke-width="0.6" fill="none" opacity="0.9"/>
<circle cx="245.7" cy="373.3" r="4.3" fill="#fff" stroke="#111" stroke-width="1.3"/>
<path d="M242.8,370.4 L248.6,376.2 M242.8,376.2 L248.6,370.4" stroke="#111" stroke-width="1.2"/>
<circle cx="201.4" cy="452.2" r="4.3" fill="#fff" stroke="#111" stroke-width="1.3"/>
<circle cx="201.4" cy="452.2" r="1.8" fill="#111"/>
<text x="272.3" y="365.2" font-size="9.6" fill="#333" text-anchor="start" font-weight="normal" letter-spacing="0.5" stroke="#333" stroke-width="0.15">(h)</text>
<rect x="299.9" y="362.6" width="98.6" height="98.0" fill="#000"/>
<g clip-path="url(#chh)">
<circle cx="349.4" cy="410.2" r="15.4" fill="none" stroke="#a8180a" stroke-width="4.2" opacity="0.9" filter="url(#f1)"/>
<circle cx="349.4" cy="410.2" r="11" fill="none" stroke="#3a0604" stroke-width="4" filter="url(#f1)"/>
<path d="M348.0,393.9 A16.4,16.4 0 0 1 365.6,413.0" stroke="#f86a28" stroke-width="1.5" fill="none" opacity="0.75" filter="url(#f1)"/>
<path d="M362.8,419.6 A16.4,16.4 0 0 1 342.5,425.1" stroke="#f87a30" stroke-width="1.5" fill="none" opacity="0.75" filter="url(#f1)"/>
<path d="M335.2,418.4 A16.4,16.4 0 0 1 336.0,400.8" stroke="#e0381a" stroke-width="1.3" fill="none" opacity="0.6" filter="url(#f1)"/>
</g>
<line x1="350.4" y1="382.5" x2="350.4" y2="438" stroke="#f0f0f0" stroke-width="0.9" stroke-dasharray="1.8,1.3"/>
<line x1="325" y1="411.2" x2="378.5" y2="411.2" stroke="#f0f0f0" stroke-width="0.9" stroke-dasharray="1.8,1.3"/>
<line x1="334.5" y1="387.2" x2="350.4" y2="411.2" stroke="#f0f0f0" stroke-width="0.9" stroke-dasharray="1.8,1.3"/>
<line x1="328.4" y1="392.1" x2="350.4" y2="411.2" stroke="#f0f0f0" stroke-width="0.9" stroke-dasharray="1.8,1.3"/>
<line x1="326.2" y1="398.0" x2="350.4" y2="411.2" stroke="#f0f0f0" stroke-width="0.9" stroke-dasharray="1.8,1.3"/>
<line x1="350.4" y1="411.2" x2="374.0" y2="422.5" stroke="#f0f0f0" stroke-width="0.9" stroke-dasharray="1.8,1.3"/>
<line x1="350.4" y1="411.2" x2="369.5" y2="428.5" stroke="#f0f0f0" stroke-width="0.9" stroke-dasharray="1.8,1.3"/>
<line x1="350.4" y1="411.2" x2="364.5" y2="434.5" stroke="#f0f0f0" stroke-width="0.9" stroke-dasharray="1.8,1.3"/>
<circle cx="350.4" cy="411.2" r="1.3" fill="#fff"/>
<text x="350.4" y="381.5" font-size="6.4" fill="#eee" font-style="italic" text-anchor="middle">θ<tspan font-size="4" dy="1.3">6</tspan></text>
<text x="332.2" y="385.6" font-size="6.4" fill="#eee" font-style="italic" text-anchor="middle">θ<tspan font-size="4" dy="1.3">5</tspan></text>
<text x="324.8" y="391.3" font-size="6.4" fill="#eee" font-style="italic" text-anchor="middle">θ<tspan font-size="4" dy="1.3">4</tspan></text>
<text x="321.6" y="398" font-size="6.4" fill="#eee" font-style="italic" text-anchor="middle">θ<tspan font-size="4" dy="1.3">3</tspan></text>
<text x="320.8" y="413.6" font-size="6.4" fill="#eee" font-style="italic" text-anchor="middle">θ<tspan font-size="4" dy="1.3">1</tspan></text>
<text x="381.8" y="413.6" font-size="6.4" fill="#eee" font-style="italic" text-anchor="middle">θ<tspan font-size="4" dy="1.3">1</tspan></text>
<text x="376.5" y="426" font-size="6.4" fill="#eee" font-style="italic" text-anchor="middle">θ<tspan font-size="4" dy="1.3">2</tspan></text>
<text x="371.3" y="431.7" font-size="6.4" fill="#eee" font-style="italic" text-anchor="middle">θ<tspan font-size="4" dy="1.3">3</tspan></text>
<text x="365.8" y="437.5" font-size="6.4" fill="#eee" font-style="italic" text-anchor="middle">θ<tspan font-size="4" dy="1.3">4</tspan></text>
<text x="350.4" y="443.3" font-size="6.4" fill="#eee" font-style="italic" text-anchor="middle">θ<tspan font-size="4" dy="1.3">6</tspan></text>
<g transform="translate(357.7,391.5) rotate(10)"><line x1="-4" y1="0" x2="1" y2="0" stroke="#5ab43c" stroke-width="1.1"/><polygon points="3.5,0 0,-2 0,2" fill="#5ab43c"/></g>
<g transform="translate(331,402) rotate(-100)"><line x1="-4" y1="0" x2="1" y2="0" stroke="#5ab43c" stroke-width="1.1"/><polygon points="3.5,0 0,-2 0,2" fill="#5ab43c"/></g>
<g transform="translate(341.5,428.5) rotate(190)"><line x1="-4" y1="0" x2="1" y2="0" stroke="#5ab43c" stroke-width="1.1"/><polygon points="3.5,0 0,-2 0,2" fill="#5ab43c"/></g>
<g transform="translate(365.5,418.8) rotate(80)"><line x1="-4" y1="0" x2="1" y2="0" stroke="#5ab43c" stroke-width="1.1"/><polygon points="3.5,0 0,-2 0,2" fill="#5ab43c"/></g>
<text x="315.4" y="387.8" font-size="7" fill="#d83028" text-anchor="middle">M</text>
<line x1="311.5" y1="380.2" x2="319.3" y2="380.2" stroke="#d83028" stroke-width="0.9"/>
<text x="305.8" y="411.8" font-size="7" fill="#d83028" text-anchor="middle">K</text>
<line x1="302" y1="404.2" x2="309.6" y2="404.2" stroke="#d83028" stroke-width="0.9"/>
<text x="297.5" y="365.2" font-size="7.3" fill="#666" text-anchor="end" font-weight="normal" >0.4</text>
<line x1="297.7" y1="362.7" x2="299.9" y2="362.7" stroke="#666" stroke-width="0.7"/>
<text x="297.5" y="389.3" font-size="7.3" fill="#666" text-anchor="end" font-weight="normal" >0.2</text>
<line x1="297.7" y1="386.8" x2="299.9" y2="386.8" stroke="#666" stroke-width="0.7"/>
<text x="297.5" y="414.2" font-size="7.3" fill="#666" text-anchor="end" font-weight="normal" >0.0</text>
<line x1="297.7" y1="411.7" x2="299.9" y2="411.7" stroke="#666" stroke-width="0.7"/>
<text x="297.5" y="438.8" font-size="7.3" fill="#666" text-anchor="end" font-weight="normal" >−0.2</text>
<line x1="297.7" y1="436.3" x2="299.9" y2="436.3" stroke="#666" stroke-width="0.7"/>
<text x="297.5" y="463.0" font-size="7.3" fill="#666" text-anchor="end" font-weight="normal" >−0.4</text>
<line x1="297.7" y1="460.5" x2="299.9" y2="460.5" stroke="#666" stroke-width="0.7"/>
<line x1="298.4" y1="374.7" x2="299.9" y2="374.7" stroke="#666" stroke-width="0.6"/>
<line x1="298.4" y1="399.2" x2="299.9" y2="399.2" stroke="#666" stroke-width="0.6"/>
<line x1="298.4" y1="424" x2="299.9" y2="424" stroke="#666" stroke-width="0.6"/>
<line x1="298.4" y1="448.4" x2="299.9" y2="448.4" stroke="#666" stroke-width="0.6"/>
<text x="300.0" y="469.0" font-size="7.3" fill="#666" text-anchor="middle" font-weight="normal" >−0.4</text>
<line x1="300" y1="460.6" x2="300" y2="462.8" stroke="#666" stroke-width="0.7"/>
<text x="325.0" y="469.0" font-size="7.3" fill="#666" text-anchor="middle" font-weight="normal" >−0.2</text>
<line x1="325" y1="460.6" x2="325" y2="462.8" stroke="#666" stroke-width="0.7"/>
<text x="350.0" y="469.0" font-size="7.3" fill="#666" text-anchor="middle" font-weight="normal" >0.0</text>
<line x1="350" y1="460.6" x2="350" y2="462.8" stroke="#666" stroke-width="0.7"/>
<text x="374.5" y="469.0" font-size="7.3" fill="#666" text-anchor="middle" font-weight="normal" >0.2</text>
<line x1="374.5" y1="460.6" x2="374.5" y2="462.8" stroke="#666" stroke-width="0.7"/>
<text x="398.5" y="469.0" font-size="7.3" fill="#666" text-anchor="middle" font-weight="normal" >0.4</text>
<line x1="398.5" y1="460.6" x2="398.5" y2="462.8" stroke="#666" stroke-width="0.7"/>
<text x="350" y="481.5" font-size="7" fill="#555" text-anchor="middle"><tspan font-style="italic">k</tspan><tspan font-size="4.8" dy="1.5">x</tspan><tspan dy="-1.5"> (Å</tspan><tspan font-size="4.8" dy="-2.5">−1</tspan><tspan dy="2.5">)</tspan></text>
<text transform="translate(280.5,412) rotate(-90)" font-size="7" fill="#555" text-anchor="middle"><tspan font-style="italic">k</tspan><tspan font-size="4.8" dy="1.5">y</tspan><tspan dy="-1.5"> (Å</tspan><tspan font-size="4.8" dy="-2.5">−1</tspan><tspan dy="2.5">)</tspan></text>
<text x="406.5" y="365.2" font-size="9.6" fill="#333" text-anchor="start" font-weight="normal" letter-spacing="0.5" stroke="#333" stroke-width="0.15">(i)</text>
<rect x="419.6" y="371.2" width="99.0" height="90.1" fill="#fff" stroke="#bbb" stroke-width="0.8"/>
<line x1="419.6" y1="371.2" x2="419.6" y2="461.3" stroke="#888" stroke-width="0.8"/>
<line x1="419.6" y1="461.3" x2="518.6" y2="461.3" stroke="#888" stroke-width="0.8"/>
<text x="469.0" y="367.8" font-size="5.6" fill="#d84040" text-anchor="middle" font-weight="normal" >Surf. Fermi surface proximity gap</text>
<line x1="469.3" y1="371.2" x2="469.3" y2="461.3" stroke="#555" stroke-width="0.8"/>
<path d="M419.6,381.0 L420.2,381.0 L420.8,381.0 L421.5,381.0 L422.1,381.0 L422.7,381.0 L423.3,381.0 L423.9,381.0 L424.6,381.0 L425.2,381.0 L425.8,381.0 L426.4,381.0 L427.0,381.0 L427.6,381.0 L428.3,381.0 L428.9,381.0 L429.5,381.0 L430.1,381.0 L430.7,381.0 L431.4,381.0 L432.0,381.0 L432.6,381.0 L433.2,381.0 L433.8,381.0 L434.5,381.0 L435.1,381.0 L435.7,381.0 L436.3,381.0 L436.9,381.0 L437.5,381.0 L438.2,381.0 L438.8,381.0 L439.4,381.0 L440.0,381.0 L440.6,381.0 L441.3,381.0 L441.9,381.0 L442.5,381.0 L443.1,381.0 L443.7,381.0 L444.4,381.0 L445.0,381.0 L445.6,381.0 L446.2,381.0 L446.8,381.0 L447.4,381.0 L448.1,381.0 L448.7,381.0 L449.3,381.0 L449.9,381.0 L450.5,381.0 L451.2,381.0 L451.8,380.9 L452.4,380.9 L453.0,380.8 L453.6,380.6 L454.2,380.3 L454.9,379.8 L455.5,379.2 L456.1,378.4 L456.7,377.5 L457.3,376.7 L458.0,375.9 L458.6,375.5 L459.2,375.4 L459.8,375.8 L460.4,376.5 L461.1,377.5 L461.7,378.7 L462.3,380.1 L462.9,381.5 L463.5,383.0 L464.2,384.6 L464.8,386.3 L465.4,388.0 L466.0,389.8 L466.6,391.5 L467.2,393.1 L467.9,394.4 L468.5,395.3 L469.1,395.8 L469.7,395.7 L470.3,395.1 L471.0,394.0 L471.6,392.5 L472.2,390.8 L472.8,389.0 L473.4,387.2 L474.1,385.3 L474.7,383.6 L475.3,381.9 L475.9,380.3 L476.5,378.8 L477.1,377.4 L477.8,376.4 L478.4,375.7 L479.0,375.5 L479.6,375.6 L480.2,376.2 L480.9,376.9 L481.5,377.8 L482.1,378.6 L482.7,379.4 L483.3,380.0 L484.0,380.4 L484.6,380.6 L485.2,380.8 L485.8,380.9 L486.4,381.0 L487.0,381.0 L487.7,381.0 L488.3,381.0 L488.9,381.0 L489.5,381.0 L490.1,381.0 L490.8,381.0 L491.4,381.0 L492.0,381.0 L492.6,381.0 L493.2,381.0 L493.9,381.0 L494.5,381.0 L495.1,381.0 L495.7,381.0 L496.3,381.0 L496.9,381.0 L497.6,381.0 L498.2,381.0 L498.8,381.0 L499.4,381.0 L500.0,381.0 L500.7,381.0 L501.3,381.0 L501.9,381.0 L502.5,381.0 L503.1,381.0 L503.8,381.0 L504.4,381.0 L505.0,381.0 L505.6,381.0 L506.2,381.0 L506.8,381.0 L507.5,381.0 L508.1,381.0 L508.7,381.0 L509.3,381.0 L509.9,381.0 L510.6,381.0 L511.2,381.0 L511.8,381.0 L512.4,381.0 L513.0,381.0 L513.6,381.0 L514.3,381.0 L514.9,381.0 L515.5,381.0 L516.1,381.0 L516.7,381.0 L517.4,381.0 L518.0,381.0 L518.6,381.0" stroke="#e81c1c" stroke-width="3.6" fill="none"/>
<path d="M430.7,381.0 L431.4,381.0 L432.0,381.0 L432.6,381.0 L433.2,381.0 L433.8,381.0 L434.5,381.0 L435.1,381.0 L435.7,381.0 L436.3,381.0 L436.9,381.0 L437.5,381.0 L438.2,381.0 L438.8,381.0 L439.4,381.0 L440.0,381.0 L440.6,381.0 L441.3,381.0 L441.9,381.0 L442.5,381.0 L443.1,381.0 L443.7,381.0 L444.4,381.0 L445.0,381.0 L445.6,381.0 L446.2,381.0 L446.8,381.0 L447.4,381.0 L448.1,381.0 L448.7,381.0 L449.3,381.0 L449.9,381.0 L450.5,381.0 L451.2,381.0 L451.8,380.9 L452.4,380.9 L453.0,380.8 L453.6,380.6 L454.2,380.3 L454.9,379.8 L455.5,379.2 L456.1,378.4 L456.7,377.5 L457.3,376.7 L458.0,375.9 L458.6,375.5 L459.2,375.4 L459.8,375.8 L460.4,376.5 L461.1,377.5 L461.7,378.7 L462.3,380.1 L462.9,381.5 L463.5,383.0 L464.2,384.6 L464.8,386.3 L465.4,388.0 L466.0,389.8 L466.6,391.5 L467.2,393.1 L467.9,394.4 L468.5,395.3 L469.1,395.8 L469.7,395.7 L470.3,395.1 L471.0,394.0 L471.6,392.5 L472.2,390.8 L472.8,389.0 L473.4,387.2 L474.1,385.3 L474.7,383.6 L475.3,381.9 L475.9,380.3 L476.5,378.8 L477.1,377.4 L477.8,376.4 L478.4,375.7 L479.0,375.5 L479.6,375.6 L480.2,376.2 L480.9,376.9 L481.5,377.8 L482.1,378.6 L482.7,379.4 L483.3,380.0 L484.0,380.4 L484.6,380.6 L485.2,380.8 L485.8,380.9 L486.4,381.0 L487.0,381.0 L487.7,381.0 L488.3,381.0 L488.9,381.0 L489.5,381.0 L490.1,381.0 L490.8,381.0 L491.4,381.0 L492.0,381.0 L492.6,381.0 L493.2,381.0 L493.9,381.0 L494.5,381.0 L495.1,381.0 L495.7,381.0 L496.3,381.0 L496.9,381.0 L497.6,381.0 L498.2,381.0 L498.8,381.0 L499.4,381.0 L500.0,381.0 L500.7,381.0 L501.3,381.0 L501.9,381.0 L502.5,381.0 L503.1,381.0 L503.8,381.0 L504.4,381.0 L505.0,381.0" stroke="#3b2a8c" stroke-width="2.8" fill="none"/>
<path d="M419.6,396.8 L420.2,396.8 L420.8,396.8 L421.5,396.8 L422.1,396.8 L422.7,396.8 L423.3,396.8 L423.9,396.8 L424.6,396.8 L425.2,396.8 L425.8,396.8 L426.4,396.8 L427.0,396.8 L427.6,396.8 L428.3,396.8 L428.9,396.8 L429.5,396.8 L430.1,396.8 L430.7,396.8 L431.4,396.8 L432.0,396.8 L432.6,396.8 L433.2,396.8 L433.8,396.8 L434.5,396.8 L435.1,396.8 L435.7,396.8 L436.3,396.8 L436.9,396.8 L437.5,396.8 L438.2,396.8 L438.8,396.8 L439.4,396.8 L440.0,396.8 L440.6,396.8 L441.3,396.8 L441.9,396.8 L442.5,396.8 L443.1,396.8 L443.7,396.8 L444.4,396.8 L445.0,396.8 L445.6,396.8 L446.2,396.8 L446.8,396.8 L447.4,396.8 L448.1,396.8 L448.7,396.8 L449.3,396.8 L449.9,396.8 L450.5,396.8 L451.2,396.8 L451.8,396.8 L452.4,396.7 L453.0,396.7 L453.6,396.5 L454.2,396.3 L454.9,396.0 L455.5,395.6 L456.1,395.1 L456.7,394.6 L457.3,394.1 L458.0,393.6 L458.6,393.3 L459.2,393.3 L459.8,393.5 L460.4,394.0 L461.1,394.7 L461.7,395.5 L462.3,396.5 L462.9,397.5 L463.5,398.7 L464.2,399.9 L464.8,401.2 L465.4,402.5 L466.0,404.0 L466.6,405.4 L467.2,406.7 L467.9,407.8 L468.5,408.5 L469.1,408.9 L469.7,408.8 L470.3,408.3 L471.0,407.4 L471.6,406.2 L472.2,404.9 L472.8,403.4 L473.4,401.9 L474.1,400.5 L474.7,399.1 L475.3,397.9 L475.9,396.7 L476.5,395.6 L477.1,394.7 L477.8,394.0 L478.4,393.5 L479.0,393.3 L479.6,393.4 L480.2,393.8 L480.9,394.2 L481.5,394.8 L482.1,395.3 L482.7,395.8 L483.3,396.1 L484.0,396.4 L484.6,396.6 L485.2,396.7 L485.8,396.7 L486.4,396.8 L487.0,396.8 L487.7,396.8 L488.3,396.8 L488.9,396.8 L489.5,396.8 L490.1,396.8 L490.8,396.8 L491.4,396.8 L492.0,396.8 L492.6,396.8 L493.2,396.8 L493.9,396.8 L494.5,396.8 L495.1,396.8 L495.7,396.8 L496.3,396.8 L496.9,396.8 L497.6,396.8 L498.2,396.8 L498.8,396.8 L499.4,396.8 L500.0,396.8 L500.7,396.8 L501.3,396.8 L501.9,396.8 L502.5,396.8 L503.1,396.8 L503.8,396.8 L504.4,396.8 L505.0,396.8 L505.6,396.8 L506.2,396.8 L506.8,396.8 L507.5,396.8 L508.1,396.8 L508.7,396.8 L509.3,396.8 L509.9,396.8 L510.6,396.8 L511.2,396.8 L511.8,396.8 L512.4,396.8 L513.0,396.8 L513.6,396.8 L514.3,396.8 L514.9,396.8 L515.5,396.8 L516.1,396.8 L516.7,396.8 L517.4,396.8 L518.0,396.8 L518.6,396.8" stroke="#e81c1c" stroke-width="3.6" fill="none"/>
<path d="M430.7,396.8 L431.4,396.8 L432.0,396.8 L432.6,396.8 L433.2,396.8 L433.8,396.8 L434.5,396.8 L435.1,396.8 L435.7,396.8 L436.3,396.8 L436.9,396.8 L437.5,396.8 L438.2,396.8 L438.8,396.8 L439.4,396.8 L440.0,396.8 L440.6,396.8 L441.3,396.8 L441.9,396.8 L442.5,396.8 L443.1,396.8 L443.7,396.8 L444.4,396.8 L445.0,396.8 L445.6,396.8 L446.2,396.8 L446.8,396.8 L447.4,396.8 L448.1,396.8 L448.7,396.8 L449.3,396.8 L449.9,396.8 L450.5,396.8 L451.2,396.8 L451.8,396.8 L452.4,396.7 L453.0,396.7 L453.6,396.5 L454.2,396.3 L454.9,396.0 L455.5,395.6 L456.1,395.1 L456.7,394.6 L457.3,394.1 L458.0,393.6 L458.6,393.3 L459.2,393.3 L459.8,393.5 L460.4,394.0 L461.1,394.7 L461.7,395.5 L462.3,396.5 L462.9,397.5 L463.5,398.7 L464.2,399.9 L464.8,401.2 L465.4,402.5 L466.0,404.0 L466.6,405.4 L467.2,406.7 L467.9,407.8 L468.5,408.5 L469.1,408.9 L469.7,408.8 L470.3,408.3 L471.0,407.4 L471.6,406.2 L472.2,404.9 L472.8,403.4 L473.4,401.9 L474.1,400.5 L474.7,399.1 L475.3,397.9 L475.9,396.7 L476.5,395.6 L477.1,394.7 L477.8,394.0 L478.4,393.5 L479.0,393.3 L479.6,393.4 L480.2,393.8 L480.9,394.2 L481.5,394.8 L482.1,395.3 L482.7,395.8 L483.3,396.1 L484.0,396.4 L484.6,396.6 L485.2,396.7 L485.8,396.7 L486.4,396.8 L487.0,396.8 L487.7,396.8 L488.3,396.8 L488.9,396.8 L489.5,396.8 L490.1,396.8 L490.8,396.8 L491.4,396.8 L492.0,396.8 L492.6,396.8 L493.2,396.8 L493.9,396.8 L494.5,396.8 L495.1,396.8 L495.7,396.8 L496.3,396.8 L496.9,396.8 L497.6,396.8 L498.2,396.8 L498.8,396.8 L499.4,396.8 L500.0,396.8 L500.7,396.8 L501.3,396.8 L501.9,396.8 L502.5,396.8 L503.1,396.8 L503.8,396.8 L504.4,396.8 L505.0,396.8" stroke="#3b2a8c" stroke-width="2.8" fill="none"/>
<path d="M419.6,413.2 L420.2,413.2 L420.8,413.2 L421.5,413.2 L422.1,413.2 L422.7,413.2 L423.3,413.2 L423.9,413.2 L424.6,413.2 L425.2,413.2 L425.8,413.2 L426.4,413.2 L427.0,413.2 L427.6,413.2 L428.3,413.2 L428.9,413.2 L429.5,413.2 L430.1,413.2 L430.7,413.2 L431.4,413.2 L432.0,413.2 L432.6,413.2 L433.2,413.2 L433.8,413.2 L434.5,413.2 L435.1,413.2 L435.7,413.2 L436.3,413.2 L436.9,413.2 L437.5,413.2 L438.2,413.2 L438.8,413.2 L439.4,413.2 L440.0,413.2 L440.6,413.2 L441.3,413.2 L441.9,413.2 L442.5,413.2 L443.1,413.2 L443.7,413.2 L444.4,413.2 L445.0,413.2 L445.6,413.2 L446.2,413.2 L446.8,413.2 L447.4,413.2 L448.1,413.2 L448.7,413.2 L449.3,413.2 L449.9,413.2 L450.5,413.2 L451.2,413.2 L451.8,413.2 L452.4,413.1 L453.0,413.1 L453.6,412.9 L454.2,412.7 L454.9,412.4 L455.5,412.0 L456.1,411.5 L456.7,410.9 L457.3,410.4 L458.0,409.9 L458.6,409.6 L459.2,409.6 L459.8,409.9 L460.4,410.4 L461.1,411.1 L461.7,412.0 L462.3,413.0 L462.9,414.2 L463.5,415.4 L464.2,416.7 L464.8,418.2 L465.4,419.8 L466.0,421.4 L466.6,423.0 L467.2,424.5 L467.9,425.7 L468.5,426.6 L469.1,427.0 L469.7,426.9 L470.3,426.3 L471.0,425.3 L471.6,424.0 L472.2,422.4 L472.8,420.8 L473.4,419.1 L474.1,417.5 L474.7,416.0 L475.3,414.5 L475.9,413.3 L476.5,412.1 L477.1,411.1 L477.8,410.4 L478.4,409.9 L479.0,409.7 L479.6,409.8 L480.2,410.1 L480.9,410.6 L481.5,411.1 L482.1,411.7 L482.7,412.2 L483.3,412.5 L484.0,412.8 L484.6,413.0 L485.2,413.1 L485.8,413.1 L486.4,413.2 L487.0,413.2 L487.7,413.2 L488.3,413.2 L488.9,413.2 L489.5,413.2 L490.1,413.2 L490.8,413.2 L491.4,413.2 L492.0,413.2 L492.6,413.2 L493.2,413.2 L493.9,413.2 L494.5,413.2 L495.1,413.2 L495.7,413.2 L496.3,413.2 L496.9,413.2 L497.6,413.2 L498.2,413.2 L498.8,413.2 L499.4,413.2 L500.0,413.2 L500.7,413.2 L501.3,413.2 L501.9,413.2 L502.5,413.2 L503.1,413.2 L503.8,413.2 L504.4,413.2 L505.0,413.2 L505.6,413.2 L506.2,413.2 L506.8,413.2 L507.5,413.2 L508.1,413.2 L508.7,413.2 L509.3,413.2 L509.9,413.2 L510.6,413.2 L511.2,413.2 L511.8,413.2 L512.4,413.2 L513.0,413.2 L513.6,413.2 L514.3,413.2 L514.9,413.2 L515.5,413.2 L516.1,413.2 L516.7,413.2 L517.4,413.2 L518.0,413.2 L518.6,413.2" stroke="#e81c1c" stroke-width="3.6" fill="none"/>
<path d="M430.7,413.2 L431.4,413.2 L432.0,413.2 L432.6,413.2 L433.2,413.2 L433.8,413.2 L434.5,413.2 L435.1,413.2 L435.7,413.2 L436.3,413.2 L436.9,413.2 L437.5,413.2 L438.2,413.2 L438.8,413.2 L439.4,413.2 L440.0,413.2 L440.6,413.2 L441.3,413.2 L441.9,413.2 L442.5,413.2 L443.1,413.2 L443.7,413.2 L444.4,413.2 L445.0,413.2 L445.6,413.2 L446.2,413.2 L446.8,413.2 L447.4,413.2 L448.1,413.2 L448.7,413.2 L449.3,413.2 L449.9,413.2 L450.5,413.2 L451.2,413.2 L451.8,413.2 L452.4,413.1 L453.0,413.1 L453.6,412.9 L454.2,412.7 L454.9,412.4 L455.5,412.0 L456.1,411.5 L456.7,410.9 L457.3,410.4 L458.0,409.9 L458.6,409.6 L459.2,409.6 L459.8,409.9 L460.4,410.4 L461.1,411.1 L461.7,412.0 L462.3,413.0 L462.9,414.2 L463.5,415.4 L464.2,416.7 L464.8,418.2 L465.4,419.8 L466.0,421.4 L466.6,423.0 L467.2,424.5 L467.9,425.7 L468.5,426.6 L469.1,427.0 L469.7,426.9 L470.3,426.3 L471.0,425.3 L471.6,424.0 L472.2,422.4 L472.8,420.8 L473.4,419.1 L474.1,417.5 L474.7,416.0 L475.3,414.5 L475.9,413.3 L476.5,412.1 L477.1,411.1 L477.8,410.4 L478.4,409.9 L479.0,409.7 L479.6,409.8 L480.2,410.1 L480.9,410.6 L481.5,411.1 L482.1,411.7 L482.7,412.2 L483.3,412.5 L484.0,412.8 L484.6,413.0 L485.2,413.1 L485.8,413.1 L486.4,413.2 L487.0,413.2 L487.7,413.2 L488.3,413.2 L488.9,413.2 L489.5,413.2 L490.1,413.2 L490.8,413.2 L491.4,413.2 L492.0,413.2 L492.6,413.2 L493.2,413.2 L493.9,413.2 L494.5,413.2 L495.1,413.2 L495.7,413.2 L496.3,413.2 L496.9,413.2 L497.6,413.2 L498.2,413.2 L498.8,413.2 L499.4,413.2 L500.0,413.2 L500.7,413.2 L501.3,413.2 L501.9,413.2 L502.5,413.2 L503.1,413.2 L503.8,413.2 L504.4,413.2 L505.0,413.2" stroke="#3b2a8c" stroke-width="2.8" fill="none"/>
<path d="M419.6,428.6 L420.2,428.6 L420.8,428.6 L421.5,428.6 L422.1,428.6 L422.7,428.6 L423.3,428.6 L423.9,428.6 L424.6,428.6 L425.2,428.6 L425.8,428.6 L426.4,428.6 L427.0,428.6 L427.6,428.6 L428.3,428.6 L428.9,428.6 L429.5,428.6 L430.1,428.6 L430.7,428.6 L431.4,428.6 L432.0,428.6 L432.6,428.6 L433.2,428.6 L433.8,428.6 L434.5,428.6 L435.1,428.6 L435.7,428.6 L436.3,428.6 L436.9,428.6 L437.5,428.6 L438.2,428.6 L438.8,428.6 L439.4,428.6 L440.0,428.6 L440.6,428.6 L441.3,428.6 L441.9,428.6 L442.5,428.6 L443.1,428.6 L443.7,428.6 L444.4,428.6 L445.0,428.6 L445.6,428.6 L446.2,428.6 L446.8,428.6 L447.4,428.6 L448.1,428.6 L448.7,428.6 L449.3,428.6 L449.9,428.6 L450.5,428.6 L451.2,428.6 L451.8,428.6 L452.4,428.5 L453.0,428.4 L453.6,428.3 L454.2,428.1 L454.9,427.7 L455.5,427.3 L456.1,426.7 L456.7,426.1 L457.3,425.5 L458.0,425.0 L458.6,424.7 L459.2,424.6 L459.8,424.9 L460.4,425.4 L461.1,426.2 L461.7,427.2 L462.3,428.3 L462.9,429.5 L463.5,430.9 L464.2,432.3 L464.8,433.8 L465.4,435.5 L466.0,437.2 L466.6,438.9 L467.2,440.4 L467.9,441.7 L468.5,442.6 L469.1,443.0 L469.7,442.9 L470.3,442.3 L471.0,441.3 L471.6,439.9 L472.2,438.3 L472.8,436.5 L473.4,434.8 L474.1,433.0 L474.7,431.4 L475.3,429.9 L475.9,428.6 L476.5,427.3 L477.1,426.3 L477.8,425.4 L478.4,424.9 L479.0,424.7 L479.6,424.8 L480.2,425.1 L480.9,425.7 L481.5,426.3 L482.1,426.9 L482.7,427.4 L483.3,427.9 L484.0,428.1 L484.6,428.3 L485.2,428.5 L485.8,428.5 L486.4,428.6 L487.0,428.6 L487.7,428.6 L488.3,428.6 L488.9,428.6 L489.5,428.6 L490.1,428.6 L490.8,428.6 L491.4,428.6 L492.0,428.6 L492.6,428.6 L493.2,428.6 L493.9,428.6 L494.5,428.6 L495.1,428.6 L495.7,428.6 L496.3,428.6 L496.9,428.6 L497.6,428.6 L498.2,428.6 L498.8,428.6 L499.4,428.6 L500.0,428.6 L500.7,428.6 L501.3,428.6 L501.9,428.6 L502.5,428.6 L503.1,428.6 L503.8,428.6 L504.4,428.6 L505.0,428.6 L505.6,428.6 L506.2,428.6 L506.8,428.6 L507.5,428.6 L508.1,428.6 L508.7,428.6 L509.3,428.6 L509.9,428.6 L510.6,428.6 L511.2,428.6 L511.8,428.6 L512.4,428.6 L513.0,428.6 L513.6,428.6 L514.3,428.6 L514.9,428.6 L515.5,428.6 L516.1,428.6 L516.7,428.6 L517.4,428.6 L518.0,428.6 L518.6,428.6" stroke="#e81c1c" stroke-width="3.6" fill="none"/>
<path d="M430.7,428.6 L431.4,428.6 L432.0,428.6 L432.6,428.6 L433.2,428.6 L433.8,428.6 L434.5,428.6 L435.1,428.6 L435.7,428.6 L436.3,428.6 L436.9,428.6 L437.5,428.6 L438.2,428.6 L438.8,428.6 L439.4,428.6 L440.0,428.6 L440.6,428.6 L441.3,428.6 L441.9,428.6 L442.5,428.6 L443.1,428.6 L443.7,428.6 L444.4,428.6 L445.0,428.6 L445.6,428.6 L446.2,428.6 L446.8,428.6 L447.4,428.6 L448.1,428.6 L448.7,428.6 L449.3,428.6 L449.9,428.6 L450.5,428.6 L451.2,428.6 L451.8,428.6 L452.4,428.5 L453.0,428.4 L453.6,428.3 L454.2,428.1 L454.9,427.7 L455.5,427.3 L456.1,426.7 L456.7,426.1 L457.3,425.5 L458.0,425.0 L458.6,424.7 L459.2,424.6 L459.8,424.9 L460.4,425.4 L461.1,426.2 L461.7,427.2 L462.3,428.3 L462.9,429.5 L463.5,430.9 L464.2,432.3 L464.8,433.8 L465.4,435.5 L466.0,437.2 L466.6,438.9 L467.2,440.4 L467.9,441.7 L468.5,442.6 L469.1,443.0 L469.7,442.9 L470.3,442.3 L471.0,441.3 L471.6,439.9 L472.2,438.3 L472.8,436.5 L473.4,434.8 L474.1,433.0 L474.7,431.4 L475.3,429.9 L475.9,428.6 L476.5,427.3 L477.1,426.3 L477.8,425.4 L478.4,424.9 L479.0,424.7 L479.6,424.8 L480.2,425.1 L480.9,425.7 L481.5,426.3 L482.1,426.9 L482.7,427.4 L483.3,427.9 L484.0,428.1 L484.6,428.3 L485.2,428.5 L485.8,428.5 L486.4,428.6 L487.0,428.6 L487.7,428.6 L488.3,428.6 L488.9,428.6 L489.5,428.6 L490.1,428.6 L490.8,428.6 L491.4,428.6 L492.0,428.6 L492.6,428.6 L493.2,428.6 L493.9,428.6 L494.5,428.6 L495.1,428.6 L495.7,428.6 L496.3,428.6 L496.9,428.6 L497.6,428.6 L498.2,428.6 L498.8,428.6 L499.4,428.6 L500.0,428.6 L500.7,428.6 L501.3,428.6 L501.9,428.6 L502.5,428.6 L503.1,428.6 L503.8,428.6 L504.4,428.6 L505.0,428.6" stroke="#3b2a8c" stroke-width="2.8" fill="none"/>
<path d="M419.6,444.6 L420.2,444.6 L420.8,444.6 L421.5,444.6 L422.1,444.6 L422.7,444.6 L423.3,444.6 L423.9,444.6 L424.6,444.6 L425.2,444.6 L425.8,444.6 L426.4,444.6 L427.0,444.6 L427.6,444.6 L428.3,444.6 L428.9,444.6 L429.5,444.6 L430.1,444.6 L430.7,444.6 L431.4,444.6 L432.0,444.6 L432.6,444.6 L433.2,444.6 L433.8,444.6 L434.5,444.6 L435.1,444.6 L435.7,444.6 L436.3,444.6 L436.9,444.6 L437.5,444.6 L438.2,444.6 L438.8,444.6 L439.4,444.6 L440.0,444.6 L440.6,444.6 L441.3,444.6 L441.9,444.6 L442.5,444.6 L443.1,444.6 L443.7,444.6 L444.4,444.6 L445.0,444.6 L445.6,444.6 L446.2,444.6 L446.8,444.6 L447.4,444.6 L448.1,444.6 L448.7,444.6 L449.3,444.6 L449.9,444.6 L450.5,444.6 L451.2,444.6 L451.8,444.6 L452.4,444.5 L453.0,444.5 L453.6,444.3 L454.2,444.1 L454.9,443.8 L455.5,443.4 L456.1,442.9 L456.7,442.4 L457.3,441.9 L458.0,441.4 L458.6,441.1 L459.2,441.1 L459.8,441.4 L460.4,441.9 L461.1,442.6 L461.7,443.5 L462.3,444.5 L462.9,445.6 L463.5,446.8 L464.2,448.1 L464.8,449.6 L465.4,451.1 L466.0,452.8 L466.6,454.4 L467.2,455.8 L467.9,457.0 L468.5,457.9 L469.1,458.3 L469.7,458.2 L470.3,457.6 L471.0,456.6 L471.6,455.3 L472.2,453.8 L472.8,452.1 L473.4,450.5 L474.1,448.9 L474.7,447.3 L475.3,446.0 L475.9,444.7 L476.5,443.6 L477.1,442.6 L477.8,441.8 L478.4,441.4 L479.0,441.2 L479.6,441.2 L480.2,441.6 L480.9,442.0 L481.5,442.6 L482.1,443.1 L482.7,443.6 L483.3,443.9 L484.0,444.2 L484.6,444.4 L485.2,444.5 L485.8,444.5 L486.4,444.6 L487.0,444.6 L487.7,444.6 L488.3,444.6 L488.9,444.6 L489.5,444.6 L490.1,444.6 L490.8,444.6 L491.4,444.6 L492.0,444.6 L492.6,444.6 L493.2,444.6 L493.9,444.6 L494.5,444.6 L495.1,444.6 L495.7,444.6 L496.3,444.6 L496.9,444.6 L497.6,444.6 L498.2,444.6 L498.8,444.6 L499.4,444.6 L500.0,444.6 L500.7,444.6 L501.3,444.6 L501.9,444.6 L502.5,444.6 L503.1,444.6 L503.8,444.6 L504.4,444.6 L505.0,444.6 L505.6,444.6 L506.2,444.6 L506.8,444.6 L507.5,444.6 L508.1,444.6 L508.7,444.6 L509.3,444.6 L509.9,444.6 L510.6,444.6 L511.2,444.6 L511.8,444.6 L512.4,444.6 L513.0,444.6 L513.6,444.6 L514.3,444.6 L514.9,444.6 L515.5,444.6 L516.1,444.6 L516.7,444.6 L517.4,444.6 L518.0,444.6 L518.6,444.6" stroke="#e81c1c" stroke-width="3.6" fill="none"/>
<path d="M430.7,444.6 L431.4,444.6 L432.0,444.6 L432.6,444.6 L433.2,444.6 L433.8,444.6 L434.5,444.6 L435.1,444.6 L435.7,444.6 L436.3,444.6 L436.9,444.6 L437.5,444.6 L438.2,444.6 L438.8,444.6 L439.4,444.6 L440.0,444.6 L440.6,444.6 L441.3,444.6 L441.9,444.6 L442.5,444.6 L443.1,444.6 L443.7,444.6 L444.4,444.6 L445.0,444.6 L445.6,444.6 L446.2,444.6 L446.8,444.6 L447.4,444.6 L448.1,444.6 L448.7,444.6 L449.3,444.6 L449.9,444.6 L450.5,444.6 L451.2,444.6 L451.8,444.6 L452.4,444.5 L453.0,444.5 L453.6,444.3 L454.2,444.1 L454.9,443.8 L455.5,443.4 L456.1,442.9 L456.7,442.4 L457.3,441.9 L458.0,441.4 L458.6,441.1 L459.2,441.1 L459.8,441.4 L460.4,441.9 L461.1,442.6 L461.7,443.5 L462.3,444.5 L462.9,445.6 L463.5,446.8 L464.2,448.1 L464.8,449.6 L465.4,451.1 L466.0,452.8 L466.6,454.4 L467.2,455.8 L467.9,457.0 L468.5,457.9 L469.1,458.3 L469.7,458.2 L470.3,457.6 L471.0,456.6 L471.6,455.3 L472.2,453.8 L472.8,452.1 L473.4,450.5 L474.1,448.9 L474.7,447.3 L475.3,446.0 L475.9,444.7 L476.5,443.6 L477.1,442.6 L477.8,441.8 L478.4,441.4 L479.0,441.2 L479.6,441.2 L480.2,441.6 L480.9,442.0 L481.5,442.6 L482.1,443.1 L482.7,443.6 L483.3,443.9 L484.0,444.2 L484.6,444.4 L485.2,444.5 L485.8,444.5 L486.4,444.6 L487.0,444.6 L487.7,444.6 L488.3,444.6 L488.9,444.6 L489.5,444.6 L490.1,444.6 L490.8,444.6 L491.4,444.6 L492.0,444.6 L492.6,444.6 L493.2,444.6 L493.9,444.6 L494.5,444.6 L495.1,444.6 L495.7,444.6 L496.3,444.6 L496.9,444.6 L497.6,444.6 L498.2,444.6 L498.8,444.6 L499.4,444.6 L500.0,444.6 L500.7,444.6 L501.3,444.6 L501.9,444.6 L502.5,444.6 L503.1,444.6 L503.8,444.6 L504.4,444.6 L505.0,444.6" stroke="#3b2a8c" stroke-width="2.8" fill="none"/>
<text x="417.0" y="384.1" font-size="6.8" fill="#666" text-anchor="end" font-weight="normal" >5</text>
<line x1="419.6" y1="381.7" x2="421.40000000000003" y2="381.7" stroke="#888" stroke-width="0.7"/>
<text x="417.0" y="399.8" font-size="6.8" fill="#666" text-anchor="end" font-weight="normal" >4</text>
<line x1="419.6" y1="397.4" x2="421.40000000000003" y2="397.4" stroke="#888" stroke-width="0.7"/>
<text x="417.0" y="415.6" font-size="6.8" fill="#666" text-anchor="end" font-weight="normal" >3</text>
<line x1="419.6" y1="413.2" x2="421.40000000000003" y2="413.2" stroke="#888" stroke-width="0.7"/>
<text x="417.0" y="431.7" font-size="6.8" fill="#666" text-anchor="end" font-weight="normal" >2</text>
<line x1="419.6" y1="429.3" x2="421.40000000000003" y2="429.3" stroke="#888" stroke-width="0.7"/>
<text x="417.0" y="447.8" font-size="6.8" fill="#666" text-anchor="end" font-weight="normal" >1</text>
<line x1="419.6" y1="445.4" x2="421.40000000000003" y2="445.4" stroke="#888" stroke-width="0.7"/>
<text x="417.0" y="462.8" font-size="6.8" fill="#666" text-anchor="end" font-weight="normal" >0</text>
<line x1="419.6" y1="460.4" x2="421.40000000000003" y2="460.4" stroke="#888" stroke-width="0.7"/>
<text x="431.6" y="472.0" font-size="6.8" fill="#666" text-anchor="middle" font-weight="normal" >4</text>
<line x1="431.6" y1="461.3" x2="431.6" y2="459.5" stroke="#888" stroke-width="0.7"/>
<text x="450.5" y="472.0" font-size="6.8" fill="#666" text-anchor="middle" font-weight="normal" >2</text>
<line x1="450.5" y1="461.3" x2="450.5" y2="459.5" stroke="#888" stroke-width="0.7"/>
<text x="469.3" y="472.0" font-size="6.8" fill="#666" text-anchor="middle" font-weight="normal" >0</text>
<line x1="469.3" y1="461.3" x2="469.3" y2="459.5" stroke="#888" stroke-width="0.7"/>
<text x="487.5" y="472.0" font-size="6.8" fill="#666" text-anchor="middle" font-weight="normal" >−2</text>
<line x1="487.5" y1="461.3" x2="487.5" y2="459.5" stroke="#888" stroke-width="0.7"/>
<text x="506.2" y="472.0" font-size="6.8" fill="#666" text-anchor="middle" font-weight="normal" >−4</text>
<line x1="506.2" y1="461.3" x2="506.2" y2="459.5" stroke="#888" stroke-width="0.7"/>
<text x="469" y="481.5" font-size="6.8" fill="#555" text-anchor="middle"><tspan font-style="italic">E</tspan><tspan font-size="4.6" dy="1.5">B</tspan><tspan dy="-1.5"> (meV)</tspan></text>
<text transform="translate(409.8,416) rotate(-90)" font-size="6.3" fill="#666" text-anchor="middle">Intensity (a.u.)</text>
<text x="420.5" y="378.0" font-size="5" fill="#333" font-style="italic">θ<tspan font-size="3.4" dy="1">5</tspan></text>
<text x="420.5" y="393.8" font-size="5" fill="#333" font-style="italic">θ<tspan font-size="3.4" dy="1">4</tspan></text>
<text x="420.5" y="410.2" font-size="5" fill="#333" font-style="italic">θ<tspan font-size="3.4" dy="1">3</tspan></text>
<text x="420.5" y="425.6" font-size="5" fill="#333" font-style="italic">θ<tspan font-size="3.4" dy="1">2</tspan></text>
<text x="420.5" y="441.6" font-size="5" fill="#333" font-style="italic">θ<tspan font-size="3.4" dy="1">1</tspan></text>
<text x="504" y="422.5" font-size="5.8" fill="#333" text-anchor="middle" font-style="italic">Δ(θ)</text></svg>
</body></html>
